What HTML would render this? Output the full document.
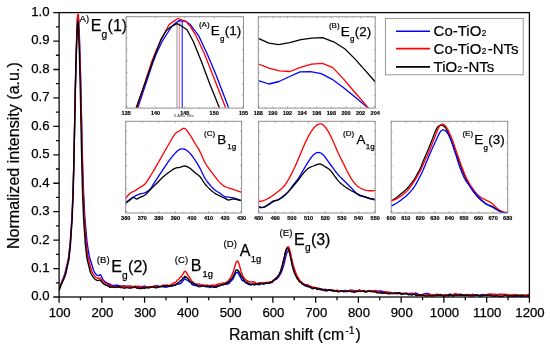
<!DOCTYPE html>
<html lang="en">
<head>
<meta charset="utf-8">
<title>Raman spectra</title>
<style>
html,body{margin:0;padding:0;background:#fff;}
body{width:550px;height:345px;overflow:hidden;}
svg text{white-space:pre;}
svg{filter:blur(0.3px);}
</style>
</head>
<body>
<svg width="550" height="345" viewBox="0 0 550 345" style="display:block">
<rect x="0" y="0" width="550" height="345" fill="#ffffff"/>
<text x="89.08" y="22" text-anchor="end" font-family='"Liberation Sans", Arial, Helvetica, sans-serif' fill="#000" stroke="#000" stroke-width="0.2" font-size="9.6">(A)</text>
<text x="90.64" y="31.2" font-family='"Liberation Sans", Arial, Helvetica, sans-serif' fill="#000" stroke="#000" stroke-width="0.25" font-size="16">E<tspan font-size="10.2" dx="0.3" dy="7">g</tspan><tspan dx="0.3" dy="-7">(1)</tspan></text>
<text x="109.58" y="262.6" text-anchor="end" font-family='"Liberation Sans", Arial, Helvetica, sans-serif' fill="#000" stroke="#000" stroke-width="0.2" font-size="9.6">(B)</text>
<text x="111.14" y="271.8" font-family='"Liberation Sans", Arial, Helvetica, sans-serif' fill="#000" stroke="#000" stroke-width="0.25" font-size="16">E<tspan font-size="10.2" dx="0.3" dy="7">g</tspan><tspan dx="0.3" dy="-7">(2)</tspan></text>
<text x="188.18" y="263.4" text-anchor="end" font-family='"Liberation Sans", Arial, Helvetica, sans-serif' fill="#000" stroke="#000" stroke-width="0.2" font-size="9.6">(C)</text>
<text x="190.63" y="270.6" font-family='"Liberation Sans", Arial, Helvetica, sans-serif' fill="#000" stroke="#000" stroke-width="0.25" font-size="16">B<tspan font-size="9.3" dx="1.3" dy="6.4">1g</tspan></text>
<text x="236.88" y="247" text-anchor="end" font-family='"Liberation Sans", Arial, Helvetica, sans-serif' fill="#000" stroke="#000" stroke-width="0.2" font-size="9.6">(D)</text>
<text x="239.7" y="256.2" font-family='"Liberation Sans", Arial, Helvetica, sans-serif' fill="#000" stroke="#000" stroke-width="0.25" font-size="16">A<tspan font-size="9.4" dx="0.3" dy="6.2">1g</tspan></text>
<text x="292.38" y="235.7" text-anchor="end" font-family='"Liberation Sans", Arial, Helvetica, sans-serif' fill="#000" stroke="#000" stroke-width="0.2" font-size="9.6">(E)</text>
<text x="293.94" y="244.5" font-family='"Liberation Sans", Arial, Helvetica, sans-serif' fill="#000" stroke="#000" stroke-width="0.25" font-size="16">E<tspan font-size="10.2" dx="0.3" dy="6.3">g</tspan><tspan dx="0.3" dy="-6.3">(3)</tspan></text>
<defs><clipPath id="cm"><rect x="59.1" y="12.6" width="470.3" height="285.4"/></clipPath></defs>
<g clip-path="url(#cm)">
<path d="M59.1 289.84 L59.31 289.03 L59.53 288.26 L59.74 287.52 L59.96 286.82 L60.17 286.15 L60.38 285.5 L60.6 284.88 L60.81 284.27 L61.02 283.69 L61.24 283.11 L61.45 282.55 L61.67 282 L61.88 281.46 L62.09 280.92 L62.31 280.39 L62.52 279.86 L62.73 279.33 L62.95 278.8 L63.16 278.26 L63.38 277.72 L63.59 277.18 L63.8 276.62 L64.02 276.06 L64.23 275.49 L64.44 274.9 L64.66 274.3 L64.87 273.68 L65.09 272.68 L65.3 271.77 L65.51 270.86 L65.73 269.95 L65.94 269.05 L66.15 268.14 L66.37 267.24 L66.58 266.34 L66.8 265.45 L67.01 264.55 L67.22 263.66 L67.44 262.77 L67.65 261.88 L67.86 260.99 L68.08 260.11 L68.29 259.22 L68.51 257.49 L68.72 255.64 L68.93 253.78 L69.15 251.93 L69.36 250.08 L69.57 248.23 L69.79 246.37 L70 244.52 L70.22 241.71 L70.43 238.69 L70.64 235.67 L70.86 232.65 L71.07 229.63 L71.29 226.61 L71.5 223.59 L71.71 220.57 L71.93 217.55 L72.14 212.56 L72.35 207.36 L72.57 202.16 L72.78 196.95 L73 191.75 L73.21 185.35 L73.42 177.6 L73.64 169.85 L73.85 162.1 L74.06 152.82 L74.28 142.52 L74.49 132.23 L74.71 121.93 L74.92 111.63 L75.13 101.34 L75.35 91.04 L75.56 82.71 L75.77 74.39 L75.99 66.07 L76.2 59.06 L76.42 52.21 L76.63 45.37 L76.84 39.29 L77.06 34.38 L77.27 29.48 L77.48 24.58 L77.7 20.08 L77.91 18.33 L78.13 16.57 L78.34 17.65 L78.55 19.43 L78.77 22.89 L78.98 27.89 L79.19 32.89 L79.41 37.89 L79.62 43.57 L79.84 50.56 L80.05 57.54 L80.26 64.53 L80.48 72.9 L80.69 81.38 L80.9 89.5 L81.12 99.04 L81.33 108.83 L81.55 118.54 L81.76 128.16 L81.97 137.71 L82.19 147.18 L82.4 156.57 L82.61 164.1 L82.83 171.01 L83.04 177.86 L83.26 184.66 L83.47 190.49 L83.68 194.97 L83.9 199.41 L84.11 203.81 L84.33 208.18 L84.54 212.52 L84.75 216.73 L84.97 219.19 L85.18 221.62 L85.39 224.04 L85.61 226.44 L85.82 228.82 L86.04 231.19 L86.25 233.53 L86.46 235.86 L86.68 238.17 L86.89 240.46 L87.1 242.73 L87.32 244.21 L87.53 245.57 L87.75 246.91 L87.96 248.24 L88.17 249.56 L88.39 250.88 L88.6 252.18 L88.81 253.47 L89.03 254.76 L89.24 256.03 L89.46 257.29 L89.67 257.93 L89.88 258.49 L90.1 259.05 L90.31 259.72 L90.52 260.41 L90.74 261.11 L90.95 261.8 L91.17 262.49 L91.38 263.19 L91.59 263.88 L91.81 264.57 L92.02 265.26 L92.23 265.95 L92.45 266.64 L92.66 267.33 L92.88 268.02 L93.09 268.71 L93.3 269.39 L93.52 270.08 L93.73 270.69 L93.94 271.1 L94.16 271.48 L94.37 271.85 L94.59 272.21 L94.8 272.54 L95.01 272.87 L95.23 273.17 L95.44 273.46 L95.66 273.74 L95.87 274 L96.08 274.24 L96.3 274.47 L96.51 274.68 L96.72 274.87 L96.94 275.05 L97.15 275.2 L97.37 275.34 L97.58 275.45 L97.79 275.53 L98.01 275.59 L98.22 275.62 L98.43 275.62 L98.65 275.58 L98.86 275.51 L99.08 275.41 L99.29 275.28 L99.5 275.13 L99.72 274.99 L99.93 274.86 L100.14 274.79 L100.36 274.79 L100.57 274.89 L100.79 275.1 L101 275.41 L101.21 275.79 L101.43 276.23 L101.64 276.69 L101.85 277.15 L102.07 277.62 L102.28 278.07 L102.5 278.49 L102.71 278.88 L102.92 279.23 L103.14 279.56 L103.35 279.87 L103.56 280.15 L103.78 280.41 L103.99 280.65 L104.21 280.88 L104.42 281.09 L104.63 281.29 L104.85 281.48 L105.06 281.66 L105.27 281.83 L105.49 282 L105.7 282.16 L105.92 282.31 L106.13 282.45 L106.34 282.59 L106.56 282.73 L106.77 282.86 L106.99 282.99 L107.2 283.11 L107.41 283.23 L107.63 283.35 L107.84 283.46 L108.05 283.58 L108.27 283.69 L108.48 283.46 L108.7 283.61 L108.91 283.8 L109.12 284.37 L109.34 284.87 L109.55 284.59 L109.76 284.55 L109.98 284.65 L110.19 284.33 L110.41 284.78 L111.05 284.85 L111.69 285.11 L112.33 285.38 L112.97 285.38 L113.61 285.45 L114.25 285.5 L114.89 285.55 L115.54 285.07 L116.18 285.4 L116.82 285.26 L117.46 285.28 L118.1 285.61 L118.74 285.52 L119.38 285.96 L120.03 285.7 L120.67 286.1 L121.31 286.33 L121.95 286.27 L122.59 286.06 L123.23 285.87 L123.87 285.72 L124.51 285.95 L125.16 286.37 L125.8 286.24 L126.44 286.21 L127.08 286.58 L127.72 286.28 L128.36 286.3 L129 286.68 L129.64 286.55 L130.29 287 L130.93 287.22 L131.57 287 L132.21 287.44 L132.85 287.3 L133.49 287.62 L134.13 287.22 L134.78 287.37 L135.42 287.2 L136.06 287.59 L136.7 287.55 L137.34 287.1 L137.98 286.91 L138.62 287.47 L139.26 287.05 L139.91 286.73 L140.55 286.87 L141.19 286.42 L141.83 286.83 L142.47 286.86 L143.11 286.5 L143.75 286.15 L144.4 285.89 L145.04 286.41 L145.68 287.05 L146.32 286.87 L146.96 287.31 L147.6 287.24 L148.24 287.55 L148.88 287.06 L149.53 286.74 L150.17 286.57 L150.81 286.6 L151.45 286.6 L152.09 286.72 L152.73 286.59 L153.37 286.53 L154.02 286.41 L154.66 286.59 L155.3 286 L155.94 286.03 L156.58 285.7 L157.22 285.45 L157.86 285.94 L158.5 286.58 L159.15 286.17 L159.79 286.34 L160.43 286.33 L161.07 286.42 L161.71 286.37 L162.35 286.74 L162.99 286.7 L163.63 286.77 L164.28 286.68 L164.92 287.33 L165.56 286.86 L166.2 286.62 L166.84 287.06 L167.48 287.1 L168.12 286.88 L168.77 286.5 L169.41 286.38 L170.05 285.83 L170.69 285.8 L171.33 286.07 L171.97 286.16 L172.61 285.76 L173.25 285.84 L173.9 285.41 L174.54 284.96 L175.18 284.69 L175.82 284.29 L176.46 284.27 L177.1 284.13 L177.74 284.12 L178.39 284.02 L179.03 284.13 L179.67 283.78 L180.31 283.52 L180.95 283.29 L181.59 282.47 L182.23 281.59 L182.87 281.03 L183.52 279.99 L184.16 279.31 L184.8 278.82 L185.44 279.08 L186.08 279.77 L186.72 279.89 L187.36 280.25 L188 280.59 L188.65 281.09 L189.29 281.33 L189.93 282.08 L190.57 282.45 L191.21 283.28 L191.85 284.42 L192.49 284.78 L193.14 284.48 L193.78 285.26 L194.42 285.05 L195.06 285.44 L195.7 285.67 L196.34 285.73 L196.98 285.74 L197.62 286.13 L198.27 286.1 L198.91 285.99 L199.55 285.78 L200.19 286.12 L200.83 285.68 L201.47 285.22 L202.11 284.69 L202.76 285.45 L203.4 285.59 L204.04 286.34 L204.68 286.24 L205.32 286.1 L205.96 286.53 L206.6 287.01 L207.24 286.84 L207.89 286.56 L208.53 286.79 L209.17 286.79 L209.81 287.49 L210.45 287.47 L211.09 287.18 L211.73 286.95 L212.38 286.3 L213.02 286.63 L213.66 287.23 L214.3 286.86 L214.94 286.87 L215.58 286.6 L216.22 286.24 L216.86 285.97 L217.51 285.48 L218.15 285.1 L218.79 285.72 L219.43 285.7 L220.07 285.02 L220.71 285.21 L221.35 284.9 L221.99 284.95 L222.64 285.08 L223.28 284.52 L223.92 284.2 L224.56 284.3 L225.2 283.98 L225.84 284.36 L226.48 284.42 L227.13 283.88 L227.77 283.64 L228.41 283.69 L229.05 283.14 L229.69 282.6 L230.33 281.71 L230.97 280.91 L231.61 280.44 L232.26 279.88 L232.9 279.05 L233.54 278.1 L234.18 276.52 L234.82 274.96 L235.46 273.61 L236.1 272.82 L236.75 272.54 L237.39 272.3 L238.03 272.95 L238.67 273.74 L239.31 275.37 L239.95 276.59 L240.59 277.2 L241.23 278.61 L241.88 279.97 L242.52 280.7 L243.16 280.76 L243.8 280.91 L244.44 281.62 L245.08 282.24 L245.72 282.64 L246.36 283.23 L247.01 283.41 L247.65 283.67 L248.29 284.25 L248.93 284.44 L249.57 284.49 L250.21 284.73 L250.85 285 L251.5 284.59 L252.14 283.94 L252.78 284.11 L253.42 284.28 L254.06 284.13 L254.7 284.23 L255.34 284.47 L255.98 283.98 L256.63 284.34 L257.27 284.52 L257.91 284.64 L258.55 284.78 L259.19 284.69 L259.83 284.34 L260.47 283.79 L261.12 283.58 L261.76 283.6 L262.4 284 L263.04 283.92 L263.68 284.12 L264.32 283.99 L264.96 283.53 L265.6 283.37 L266.25 283.35 L266.89 283.47 L267.53 283.3 L268.17 283.08 L268.81 283.19 L269.45 283.1 L270.09 282.54 L270.74 282.82 L271.38 282.61 L272.02 282.59 L272.66 281.64 L273.3 281.12 L273.94 280.66 L274.58 280.23 L275.22 279.79 L275.87 279.31 L276.51 279.35 L277.15 278.63 L277.79 277.75 L278.43 277.43 L279.07 276.21 L279.71 274.96 L280.35 274.3 L281 273.02 L281.64 271.49 L282.28 269.81 L282.92 267.6 L283.56 265.73 L284.2 263.26 L284.84 260.52 L285.49 257.61 L286.13 255.09 L286.77 252.99 L287.41 251.14 L288.05 250.93 L288.69 250.56 L289.33 251.55 L289.97 253.59 L290.62 255.86 L291.26 258.91 L291.9 262.06 L292.54 264.55 L293.18 267.08 L293.82 268.94 L294.46 271.18 L295.11 273.3 L295.75 275.05 L296.39 275.76 L297.03 276.97 L297.67 278.25 L298.31 279.49 L298.95 280.61 L299.59 281.29 L300.24 281.72 L300.88 281.9 L301.52 282.12 L302.16 282.62 L302.8 283.37 L303.44 284.09 L304.08 285.16 L304.72 285.66 L305.37 285.65 L306.01 285.92 L306.65 285.96 L307.29 286.56 L307.93 286.37 L308.57 286.44 L309.21 286.61 L309.86 286.66 L310.5 287.56 L311.14 287.78 L311.78 288.08 L312.42 287.51 L313.06 287.7 L313.7 287.98 L314.34 287.8 L314.99 288.28 L315.63 287.91 L316.27 288.3 L316.91 288.43 L317.55 288.82 L318.19 288.62 L318.83 289.4 L319.48 289.16 L320.12 289.45 L320.76 289.44 L321.4 289.82 L322.04 289.7 L322.68 289.65 L323.32 289.49 L323.96 289.47 L324.61 289.37 L325.25 289.2 L325.89 289.51 L326.53 290.01 L327.17 290.47 L327.81 290.23 L328.45 290.39 L329.09 290.09 L329.74 290.18 L330.38 290.59 L331.02 290.34 L331.66 289.83 L332.3 290.09 L332.94 290.56 L333.58 290.92 L334.23 290.68 L334.87 290.96 L335.51 291.14 L336.15 290.96 L336.79 291.04 L337.43 291.04 L338.07 291.22 L338.71 291.39 L339.36 291.27 L340 291.18 L340.64 290.96 L341.28 291.13 L341.92 291 L342.56 290.85 L343.2 290.85 L343.85 290.7 L344.49 290.43 L345.13 290.47 L345.77 290.54 L346.41 290.92 L347.05 290.81 L347.69 290.86 L348.33 290.96 L348.98 291.2 L349.62 290.95 L350.26 290.12 L350.9 290.13 L351.54 290.24 L352.18 290.21 L352.82 290.51 L353.47 290.53 L354.11 290.78 L354.75 290.97 L355.39 290.84 L356.03 290.74 L356.67 290.76 L357.31 290.99 L357.95 290.84 L358.6 291.15 L359.24 290.85 L359.88 290.97 L360.52 290.96 L361.16 290.71 L361.8 290.59 L362.44 291.08 L363.08 291.15 L363.73 291.02 L364.37 291.37 L365.01 292.07 L365.65 291.91 L366.29 291.78 L366.93 291.53 L367.57 291.45 L368.22 291.37 L368.86 291.28 L369.5 290.86 L370.14 290.81 L370.78 290.75 L371.42 291.01 L372.06 290.74 L372.7 290.95 L373.35 290.83 L373.99 291.63 L374.63 291.53 L375.27 291.57 L375.91 291.73 L376.55 291.31 L377.19 291.25 L377.84 291.38 L378.48 291.62 L379.12 291.06 L379.76 290.97 L380.4 290.95 L381.04 291.39 L381.68 291.11 L382.32 291.12 L382.97 291.4 L383.61 291.59 L384.25 292.22 L384.89 292.02 L385.53 292.42 L386.17 292.14 L386.81 292.33 L387.45 292.55 L388.1 292.42 L388.74 292.38 L389.38 292.78 L390.02 292.77 L390.66 292.57 L391.3 292.68 L391.94 293.12 L392.59 293.14 L393.23 293.39 L393.87 293.48 L394.51 293.37 L395.15 293.32 L395.79 293.33 L396.43 293.81 L397.07 293.57 L397.72 293.57 L398.36 293.64 L399 293.52 L399.64 292.89 L400.28 293.4 L400.92 293.92 L401.56 293.59 L402.21 293.83 L402.85 293.38 L403.49 293.73 L404.13 293.87 L404.77 293.58 L405.41 293.33 L406.05 293.29 L406.69 293.26 L407.34 293.43 L407.98 293.66 L408.62 293.79 L409.26 293.44 L409.9 293.35 L410.54 293.49 L411.18 293.53 L411.82 293.4 L412.47 293.2 L413.11 293.46 L413.75 293.66 L414.39 293.7 L415.03 293.03 L415.67 293.24 L416.31 293.1 L416.96 293.86 L417.6 293.75 L418.24 294.36 L418.88 294.76 L419.52 294.95 L420.16 294.96 L420.8 294.87 L421.44 294.75 L422.09 294.71 L422.73 294.88 L423.37 294.05 L424.01 294.08 L424.65 294.01 L425.29 293.54 L425.93 293.49 L426.58 293.57 L427.22 293.72 L427.86 293.36 L428.5 293.99 L429.14 294.45 L429.78 294.48 L430.42 295.18 L431.06 295.36 L431.71 294.9 L432.35 295.03 L432.99 294.95 L433.63 294.71 L434.27 295.1 L434.91 294.97 L435.55 295.15 L436.2 295.43 L436.84 295.41 L437.48 295.32 L438.12 295.36 L438.76 295.47 L439.4 295.06 L440.04 294.67 L440.68 294.55 L441.33 294.65 L441.97 295.03 L442.61 295.26 L443.25 295.54 L443.89 295.35 L444.53 294.99 L445.17 294.69 L445.81 294.75 L446.46 294.91 L447.1 294.86 L447.74 294.84 L448.38 294.67 L449.02 294.27 L449.66 294.62 L450.3 294.04 L450.95 294.87 L451.59 295.44 L452.23 295.81 L452.87 295.96 L453.51 295.84 L454.15 295.02 L454.79 295.23 L455.43 294.84 L456.08 294.98 L456.72 294.93 L457.36 295.26 L458 294.5 L458.64 294.61 L459.28 294.87 L459.92 294.19 L460.57 294.3 L461.21 294.31 L461.85 294.49 L462.49 294.85 L463.13 295.33 L463.77 295.32 L464.41 294.75 L465.05 294.68 L465.7 294.8 L466.34 294.51 L466.98 294.9 L467.62 294.5 L468.26 294.61 L468.9 294.95 L469.54 294.76 L470.18 294.65 L470.83 294.84 L471.47 294.81 L472.11 294.55 L472.75 294.22 L473.39 294.64 L474.03 295.54 L474.67 294.81 L475.32 294.94 L475.96 295.09 L476.6 294.95 L477.24 295.11 L477.88 294.77 L478.52 295.22 L479.16 295.25 L479.8 295.6 L480.45 295.03 L481.09 295.11 L481.73 294.76 L482.37 294.4 L483.01 294.91 L483.65 295.01 L484.29 294.8 L484.94 294.84 L485.58 294.94 L486.22 294.71 L486.86 294.5 L487.5 294.81 L488.14 294.91 L488.78 294.75 L489.42 294.75 L490.07 294.78 L490.71 295.19 L491.35 294.63 L491.99 294.8 L492.63 294.78 L493.27 294.86 L493.91 294.89 L494.56 294.89 L495.2 295.2 L495.84 295.07 L496.48 294.71 L497.12 294.67 L497.76 294.54 L498.4 294.51 L499.04 294.63 L499.69 294.17 L500.33 294.57 L500.97 294.57 L501.61 294.37 L502.25 294.44 L502.89 294.91 L503.53 295.29 L504.17 294.78 L504.82 295.16 L505.46 295.16 L506.1 294.99 L506.74 295 L507.38 295.58 L508.02 296.09 L508.66 295.94 L509.31 296.03 L509.95 295.94 L510.59 295.76 L511.23 295.6 L511.87 295.93 L512.51 296.31 L513.15 295.79 L513.79 295.87 L514.44 296.1 L515.08 296.43 L515.72 296.11 L516.36 296.32 L517 296.42 L517.64 295.99 L518.28 295.74 L518.93 295.46 L519.57 295.8 L520.21 296.43 L520.85 296.43 L521.49 296.43 L522.13 296.4 L522.77 295.89 L523.41 295.64 L524.06 295.89 L524.7 295.58 L525.34 295.56 L525.98 295.65 L526.62 295.22 L527.26 295.74 L527.9 295.32 L528.54 294.97 L529.19 295.67" fill="none" stroke="#0000ff" stroke-width="1.4" stroke-linejoin="round" stroke-linecap="butt" />
<path d="M59.1 290.18 L59.31 289.41 L59.53 288.68 L59.74 287.98 L59.96 287.32 L60.17 286.68 L60.38 286.07 L60.6 285.48 L60.81 284.91 L61.02 284.36 L61.24 283.82 L61.45 283.3 L61.67 282.78 L61.88 282.27 L62.09 281.77 L62.31 281.27 L62.52 280.77 L62.73 280.28 L62.95 279.78 L63.16 279.28 L63.38 278.77 L63.59 278.26 L63.8 277.75 L64.02 277.22 L64.23 276.68 L64.44 276.13 L64.66 275.57 L64.87 274.99 L65.09 274.4 L65.3 273.79 L65.51 273.15 L65.73 272.19 L65.94 271.22 L66.15 270.26 L66.37 269.29 L66.58 268.33 L66.8 267.37 L67.01 266.41 L67.22 265.45 L67.44 264.5 L67.65 263.54 L67.86 262.59 L68.08 261.64 L68.29 260.69 L68.51 259.74 L68.72 258.79 L68.93 257.05 L69.15 255.05 L69.36 253.05 L69.57 251.05 L69.79 249.05 L70 247.05 L70.22 245.06 L70.43 242.7 L70.64 239.44 L70.86 236.17 L71.07 232.9 L71.29 229.64 L71.5 226.37 L71.71 223.1 L71.93 219.84 L72.14 216.57 L72.35 210.94 L72.57 205.31 L72.78 199.67 L73 194.04 L73.21 188.41 L73.42 180.13 L73.64 171.73 L73.85 163.34 L74.06 153.93 L74.28 142.78 L74.49 131.62 L74.71 120.47 L74.92 109.31 L75.13 98.15 L75.35 87.51 L75.56 78.5 L75.77 69.5 L75.99 61.06 L76.2 53.64 L76.42 46.22 L76.63 39.05 L76.84 33.74 L77.06 28.43 L77.27 23.12 L77.48 18.35 L77.7 16.45 L77.91 14.56 L78.13 16.28 L78.34 18.01 L78.55 21.73 L78.77 26.58 L78.98 31.42 L79.19 36.27 L79.41 41.7 L79.62 48.48 L79.84 55.25 L80.05 62.02 L80.26 69.9 L80.48 78.12 L80.69 86.35 L80.9 95.76 L81.12 105.95 L81.33 116.14 L81.55 126.33 L81.76 136.52 L81.97 146.71 L82.19 156.9 L82.4 164.76 L82.61 172.38 L82.83 180 L83.04 187.62 L83.26 192.81 L83.47 197.9 L83.68 203 L83.9 208.1 L84.11 213.19 L84.33 217.32 L84.54 220.25 L84.75 223.18 L84.97 226.12 L85.18 229.05 L85.39 231.98 L85.61 234.91 L85.82 237.85 L86.04 240.78 L86.25 243.26 L86.46 245.03 L86.68 246.8 L86.89 248.58 L87.1 250.35 L87.32 252.12 L87.53 253.89 L87.75 255.66 L87.96 257.22 L88.17 258.03 L88.39 258.83 L88.6 259.63 L88.81 260.44 L89.03 261.24 L89.24 262.04 L89.46 262.85 L89.67 263.65 L89.88 264.45 L90.1 265.25 L90.31 266.05 L90.52 266.86 L90.74 267.66 L90.95 268.46 L91.17 269.26 L91.38 270.06 L91.59 270.69 L91.81 271.16 L92.02 271.62 L92.23 272.05 L92.45 272.46 L92.66 272.86 L92.88 273.24 L93.09 273.61 L93.3 273.95 L93.52 274.29 L93.73 274.61 L93.94 274.91 L94.16 275.21 L94.37 275.49 L94.59 275.75 L94.8 276.01 L95.01 276.25 L95.23 276.48 L95.44 276.7 L95.66 276.91 L95.87 277.1 L96.08 277.28 L96.3 277.45 L96.51 277.61 L96.72 277.75 L96.94 277.88 L97.15 277.99 L97.37 278.08 L97.58 278.16 L97.79 278.22 L98.01 278.25 L98.22 278.27 L98.43 278.26 L98.65 278.23 L98.86 278.18 L99.08 278.12 L99.29 278.06 L99.5 278.01 L99.72 277.99 L99.93 278.02 L100.14 278.11 L100.36 278.27 L100.57 278.48 L100.79 278.75 L101 279.04 L101.21 279.35 L101.43 279.66 L101.64 279.96 L101.85 280.25 L102.07 280.54 L102.28 280.81 L102.5 281.07 L102.71 281.3 L102.92 281.52 L103.14 281.73 L103.35 281.92 L103.56 282.1 L103.78 282.27 L103.99 282.43 L104.21 282.58 L104.42 282.72 L104.63 282.86 L104.85 283 L105.06 283.12 L105.27 283.25 L105.49 283.37 L105.7 283.48 L105.92 283.59 L106.13 283.7 L106.34 283.81 L106.56 283.91 L106.77 284.01 L106.99 284.11 L107.2 284.2 L107.41 284.29 L107.63 284.38 L107.84 284.47 L108.05 284.56 L108.27 284.65 L108.48 285.74 L108.7 285.48 L108.91 285.73 L109.12 285.47 L109.34 285.86 L109.55 285.9 L109.76 285.69 L109.98 286 L110.19 286.16 L110.41 285.28 L111.05 285.74 L111.69 286.15 L112.33 286.47 L112.97 286.48 L113.61 286.49 L114.25 286.17 L114.89 285.99 L115.54 286.23 L116.18 286.41 L116.82 286.9 L117.46 287.32 L118.1 287.42 L118.74 287.03 L119.38 286.91 L120.03 286.6 L120.67 286.31 L121.31 286.44 L121.95 285.81 L122.59 286.15 L123.23 286.45 L123.87 286.63 L124.51 286.27 L125.16 286.39 L125.8 286.68 L126.44 286.53 L127.08 286.19 L127.72 286.32 L128.36 286.48 L129 286.18 L129.64 285.98 L130.29 285.82 L130.93 286.25 L131.57 286.26 L132.21 286.24 L132.85 286.91 L133.49 286.49 L134.13 286.51 L134.78 286.67 L135.42 285.96 L136.06 286.06 L136.7 286.43 L137.34 286.51 L137.98 286.37 L138.62 286.18 L139.26 286.3 L139.91 286.65 L140.55 286.88 L141.19 287.1 L141.83 287.35 L142.47 287.22 L143.11 287.26 L143.75 287.11 L144.4 287.28 L145.04 287.42 L145.68 287.31 L146.32 287.27 L146.96 286.76 L147.6 287 L148.24 286.83 L148.88 286.78 L149.53 287.13 L150.17 286.76 L150.81 286.63 L151.45 287.25 L152.09 286.88 L152.73 286.47 L153.37 286.69 L154.02 286.07 L154.66 286.05 L155.3 286.45 L155.94 286.21 L156.58 286.31 L157.22 286.69 L157.86 287.24 L158.5 286.91 L159.15 286.95 L159.79 286.53 L160.43 286.26 L161.07 286.33 L161.71 286.37 L162.35 285.67 L162.99 285.12 L163.63 284.97 L164.28 285.19 L164.92 285.55 L165.56 285.63 L166.2 285.02 L166.84 284.9 L167.48 285.01 L168.12 285.38 L168.77 285.19 L169.41 285.35 L170.05 285.15 L170.69 284.71 L171.33 284.21 L171.97 284.05 L172.61 284.02 L173.25 283.74 L173.9 282.94 L174.54 282.66 L175.18 282.89 L175.82 282.02 L176.46 281.59 L177.1 280.07 L177.74 279.92 L178.39 279.48 L179.03 278.95 L179.67 278.06 L180.31 277.38 L180.95 276.84 L181.59 276.28 L182.23 275.04 L182.87 274.03 L183.52 273.22 L184.16 271.83 L184.8 271.39 L185.44 271.3 L186.08 272.13 L186.72 272.95 L187.36 274.12 L188 275.34 L188.65 276.24 L189.29 277.17 L189.93 278.14 L190.57 279.07 L191.21 280.39 L191.85 281.28 L192.49 281.69 L193.14 282.3 L193.78 282.96 L194.42 283.15 L195.06 283.74 L195.7 284.16 L196.34 284.02 L196.98 284.33 L197.62 284.02 L198.27 284.08 L198.91 284.05 L199.55 283.94 L200.19 284.91 L200.83 285.03 L201.47 285.52 L202.11 285.66 L202.76 285.66 L203.4 285.24 L204.04 285.32 L204.68 284.85 L205.32 285.16 L205.96 285.27 L206.6 285.31 L207.24 285.07 L207.89 285.19 L208.53 285.46 L209.17 285.58 L209.81 286 L210.45 285.49 L211.09 285.23 L211.73 285.11 L212.38 285.06 L213.02 285.28 L213.66 285.38 L214.3 285.07 L214.94 285.3 L215.58 285.47 L216.22 284.84 L216.86 284.32 L217.51 284.28 L218.15 284.15 L218.79 284.13 L219.43 283.68 L220.07 283.89 L220.71 283.84 L221.35 283.64 L221.99 283.13 L222.64 283.2 L223.28 283.04 L223.92 283.07 L224.56 283.07 L225.2 282.98 L225.84 282.58 L226.48 281.88 L227.13 281.68 L227.77 281.34 L228.41 280.81 L229.05 279.93 L229.69 278.85 L230.33 278.31 L230.97 277 L231.61 275.97 L232.26 274.12 L232.9 272.64 L233.54 270.91 L234.18 268.84 L234.82 266.48 L235.46 264.56 L236.1 262.61 L236.75 261.4 L237.39 261.11 L238.03 261.69 L238.67 262.86 L239.31 265.07 L239.95 267.21 L240.59 269.36 L241.23 271.99 L241.88 273.52 L242.52 275.23 L243.16 276.68 L243.8 277.81 L244.44 278.6 L245.08 279.21 L245.72 279.68 L246.36 280.46 L247.01 280.68 L247.65 280.96 L248.29 281.47 L248.93 281.77 L249.57 281.78 L250.21 281.91 L250.85 281.94 L251.5 282.17 L252.14 282.03 L252.78 281.58 L253.42 281.78 L254.06 282.59 L254.7 282.2 L255.34 282.6 L255.98 283.17 L256.63 283.93 L257.27 283.66 L257.91 283.23 L258.55 282.9 L259.19 283.06 L259.83 282.6 L260.47 282.71 L261.12 282.95 L261.76 282.92 L262.4 282.84 L263.04 282.8 L263.68 282.64 L264.32 283.31 L264.96 282.63 L265.6 282.73 L266.25 282.4 L266.89 282.55 L267.53 282.33 L268.17 282.22 L268.81 282.52 L269.45 282.09 L270.09 281.61 L270.74 281.71 L271.38 282.02 L272.02 281.72 L272.66 281.46 L273.3 280.88 L273.94 280.36 L274.58 279.32 L275.22 278.64 L275.87 278.22 L276.51 277.57 L277.15 277.79 L277.79 277.1 L278.43 276.27 L279.07 275.03 L279.71 273.53 L280.35 271.94 L281 269.95 L281.64 268.33 L282.28 266.11 L282.92 263.81 L283.56 261.24 L284.2 258.39 L284.84 255.68 L285.49 252.87 L286.13 250.44 L286.77 248.2 L287.41 247.14 L288.05 246.86 L288.69 246.83 L289.33 248.46 L289.97 250.78 L290.62 253.35 L291.26 256.8 L291.9 259.6 L292.54 262.28 L293.18 264.89 L293.82 267.08 L294.46 269.12 L295.11 270.81 L295.75 272.89 L296.39 274.35 L297.03 275.95 L297.67 276.77 L298.31 277.88 L298.95 279.29 L299.59 280.07 L300.24 281.11 L300.88 281.39 L301.52 282.1 L302.16 283.29 L302.8 283.75 L303.44 283.72 L304.08 283.97 L304.72 284.51 L305.37 284.59 L306.01 284.71 L306.65 284.57 L307.29 284.67 L307.93 284.96 L308.57 285.58 L309.21 285.77 L309.86 285.95 L310.5 286.22 L311.14 286.33 L311.78 286.95 L312.42 286.93 L313.06 287.11 L313.7 287.17 L314.34 287.38 L314.99 287.64 L315.63 287.7 L316.27 287.6 L316.91 287.89 L317.55 287.94 L318.19 288.34 L318.83 288.31 L319.48 288.43 L320.12 288.95 L320.76 288.63 L321.4 289.02 L322.04 289.06 L322.68 289.54 L323.32 290.07 L323.96 289.77 L324.61 290.18 L325.25 290.74 L325.89 290.63 L326.53 290.97 L327.17 290.83 L327.81 290.11 L328.45 290.24 L329.09 290.13 L329.74 289.99 L330.38 289.99 L331.02 290.12 L331.66 289.74 L332.3 289.94 L332.94 289.97 L333.58 290.1 L334.23 290.64 L334.87 290.59 L335.51 290.65 L336.15 290.53 L336.79 290.43 L337.43 290.04 L338.07 290.78 L338.71 290.96 L339.36 291.07 L340 291.28 L340.64 291.05 L341.28 291.01 L341.92 290.92 L342.56 291.38 L343.2 291.55 L343.85 291.4 L344.49 291.4 L345.13 291.44 L345.77 291.32 L346.41 291.28 L347.05 291.48 L347.69 290.79 L348.33 290.97 L348.98 290.69 L349.62 290.49 L350.26 290.2 L350.9 290.45 L351.54 290.78 L352.18 290.59 L352.82 290.5 L353.47 291.23 L354.11 291.89 L354.75 291.77 L355.39 291.63 L356.03 291.47 L356.67 291.13 L357.31 291.29 L357.95 290.29 L358.6 290.04 L359.24 289.75 L359.88 289.85 L360.52 290.65 L361.16 290.59 L361.8 290.79 L362.44 290.64 L363.08 290.71 L363.73 290.52 L364.37 290.86 L365.01 290.97 L365.65 290.96 L366.29 291.19 L366.93 291.28 L367.57 291.03 L368.22 290.44 L368.86 290.62 L369.5 290.46 L370.14 290.94 L370.78 291.12 L371.42 291.03 L372.06 290.88 L372.7 291.27 L373.35 291.08 L373.99 291.07 L374.63 290.72 L375.27 290.55 L375.91 290.54 L376.55 290.84 L377.19 290.87 L377.84 291.25 L378.48 291.55 L379.12 292.11 L379.76 292.4 L380.4 292.65 L381.04 292.49 L381.68 292.32 L382.32 292.63 L382.97 292.51 L383.61 292.27 L384.25 291.92 L384.89 291.97 L385.53 291.92 L386.17 292.08 L386.81 291.81 L387.45 292.37 L388.1 292.27 L388.74 293 L389.38 292.34 L390.02 292.07 L390.66 292.8 L391.3 292.9 L391.94 293.27 L392.59 293.68 L393.23 293.6 L393.87 293.69 L394.51 293.18 L395.15 293.27 L395.79 293.53 L396.43 293.43 L397.07 293.21 L397.72 292.91 L398.36 292.78 L399 293.31 L399.64 293.53 L400.28 293.52 L400.92 293.72 L401.56 293.4 L402.21 293.49 L402.85 293.49 L403.49 293.59 L404.13 293.55 L404.77 294 L405.41 293.26 L406.05 293.5 L406.69 293.75 L407.34 294.28 L407.98 294.2 L408.62 294.53 L409.26 294.29 L409.9 293.83 L410.54 293.66 L411.18 293.85 L411.82 293.48 L412.47 293.65 L413.11 293.75 L413.75 293.8 L414.39 294.02 L415.03 293.93 L415.67 294.37 L416.31 294.9 L416.96 294.42 L417.6 294.64 L418.24 294.7 L418.88 294.55 L419.52 294.69 L420.16 295.02 L420.8 295 L421.44 295.22 L422.09 294.94 L422.73 295.02 L423.37 295.01 L424.01 294.69 L424.65 295.14 L425.29 295.49 L425.93 295.08 L426.58 294.59 L427.22 294.57 L427.86 294.79 L428.5 294.38 L429.14 294.26 L429.78 294.02 L430.42 294.7 L431.06 294.72 L431.71 295.02 L432.35 295.28 L432.99 294.98 L433.63 294.69 L434.27 294.82 L434.91 294.87 L435.55 294.4 L436.2 294.25 L436.84 294.37 L437.48 294.28 L438.12 294.32 L438.76 294.79 L439.4 294.92 L440.04 294.79 L440.68 294.58 L441.33 294.98 L441.97 295.17 L442.61 295.26 L443.25 295.62 L443.89 295.1 L444.53 294.88 L445.17 294.45 L445.81 295.18 L446.46 295.34 L447.1 294.66 L447.74 295.1 L448.38 295.59 L449.02 295.35 L449.66 294.75 L450.3 294.55 L450.95 294.88 L451.59 294.69 L452.23 294.57 L452.87 294.53 L453.51 294.46 L454.15 294.26 L454.79 294 L455.43 293.73 L456.08 293.61 L456.72 293.89 L457.36 294.64 L458 294.5 L458.64 295.01 L459.28 294.27 L459.92 294.73 L460.57 295.31 L461.21 295.77 L461.85 295.45 L462.49 295.23 L463.13 294.94 L463.77 294.83 L464.41 295.06 L465.05 294.76 L465.7 294.98 L466.34 295.41 L466.98 295.01 L467.62 294.81 L468.26 295.1 L468.9 295.12 L469.54 294.74 L470.18 294.47 L470.83 294.87 L471.47 294.52 L472.11 295.38 L472.75 295.24 L473.39 295.04 L474.03 295.04 L474.67 294.97 L475.32 295.44 L475.96 295.36 L476.6 295.1 L477.24 295.34 L477.88 295.2 L478.52 295.18 L479.16 295.81 L479.8 295.81 L480.45 295.44 L481.09 295.8 L481.73 295.61 L482.37 295.36 L483.01 295.65 L483.65 295.57 L484.29 295.16 L484.94 294.88 L485.58 295.19 L486.22 294.81 L486.86 294.72 L487.5 294.71 L488.14 294.28 L488.78 294.18 L489.42 294.21 L490.07 294.05 L490.71 294.01 L491.35 293.8 L491.99 294.05 L492.63 294.77 L493.27 294.32 L493.91 294.19 L494.56 294.17 L495.2 294.3 L495.84 294.45 L496.48 294.51 L497.12 294.89 L497.76 294.65 L498.4 294.68 L499.04 295.02 L499.69 294.92 L500.33 295.02 L500.97 295.01 L501.61 294.83 L502.25 294.02 L502.89 294.53 L503.53 294.49 L504.17 294.36 L504.82 294.34 L505.46 294.01 L506.1 294.33 L506.74 294.55 L507.38 294.64 L508.02 295.12 L508.66 294.75 L509.31 295.17 L509.95 294.96 L510.59 294.59 L511.23 294.93 L511.87 294.99 L512.51 295.05 L513.15 294.5 L513.79 294.51 L514.44 295.15 L515.08 294.79 L515.72 294.5 L516.36 295.22 L517 296.01 L517.64 295 L518.28 294.97 L518.93 295.63 L519.57 295.18 L520.21 294.7 L520.85 295.5 L521.49 295.01 L522.13 294.79 L522.77 294.84 L523.41 295.09 L524.06 294.96 L524.7 295.22 L525.34 295.13 L525.98 295.19 L526.62 295.29 L527.26 295.07 L527.9 294.76 L528.54 294.54 L529.19 294.5" fill="none" stroke="#ff0000" stroke-width="1.4" stroke-linejoin="round" stroke-linecap="butt" />
<path d="M59.1 290.75 L59.31 290.04 L59.53 289.36 L59.74 288.71 L59.96 288.09 L60.17 287.5 L60.38 286.93 L60.6 286.38 L60.81 285.84 L61.02 285.32 L61.24 284.81 L61.45 284.31 L61.67 283.82 L61.88 283.34 L62.09 282.86 L62.31 282.39 L62.52 281.91 L62.73 281.44 L62.95 280.96 L63.16 280.48 L63.38 279.99 L63.59 279.5 L63.8 279 L64.02 278.49 L64.23 277.97 L64.44 277.44 L64.66 276.9 L64.87 276.34 L65.09 275.76 L65.3 275.16 L65.51 274.55 L65.73 273.91 L65.94 272.84 L66.15 271.87 L66.37 270.91 L66.58 269.94 L66.8 268.97 L67.01 268.01 L67.22 267.05 L67.44 266.09 L67.65 265.13 L67.86 264.17 L68.08 263.21 L68.29 262.25 L68.51 261.3 L68.72 260.34 L68.93 258.97 L69.15 256.95 L69.36 254.94 L69.57 252.92 L69.79 250.91 L70 248.9 L70.22 246.88 L70.43 244.75 L70.64 241.46 L70.86 238.17 L71.07 234.87 L71.29 231.58 L71.5 228.29 L71.71 225 L71.93 221.71 L72.14 218.42 L72.35 212.74 L72.57 207.07 L72.78 201.39 L73 195.72 L73.21 189.84 L73.42 181.38 L73.64 172.92 L73.85 164.46 L74.06 154.44 L74.28 143.2 L74.49 131.96 L74.71 120.71 L74.92 109.47 L75.13 98.23 L75.35 88.21 L75.56 79.13 L75.77 70.05 L75.99 62.18 L76.2 54.7 L76.42 47.23 L76.63 40.99 L76.84 35.64 L77.06 30.28 L77.27 24.93 L77.48 22.02 L77.7 20.11 L77.91 20.47 L78.13 22.33 L78.34 25.68 L78.55 30.9 L78.77 36.13 L78.98 41.36 L79.19 47.59 L79.41 54.89 L79.62 62.2 L79.84 69.88 L80.05 78.75 L80.26 87.63 L80.48 97.26 L80.69 108.25 L80.9 119.24 L81.12 130.23 L81.33 141.22 L81.55 152.21 L81.76 162.53 L81.97 170.75 L82.19 178.97 L82.4 187.19 L82.61 193.67 L82.83 199.16 L83.04 204.66 L83.26 210.16 L83.47 215.65 L83.68 219.75 L83.9 222.92 L84.11 226.08 L84.33 229.24 L84.54 232.41 L84.75 235.57 L84.97 238.73 L85.18 241.9 L85.39 244.66 L85.61 246.57 L85.82 248.48 L86.04 250.39 L86.25 252.3 L86.46 254.21 L86.68 256.12 L86.89 258.03 L87.1 259.06 L87.32 259.92 L87.53 260.79 L87.75 261.66 L87.96 262.52 L88.17 263.39 L88.39 264.26 L88.6 265.12 L88.81 265.99 L89.03 266.86 L89.24 267.72 L89.46 268.59 L89.67 269.46 L89.88 270.32 L90.1 271.31 L90.31 271.84 L90.52 272.35 L90.74 272.84 L90.95 273.3 L91.17 273.74 L91.38 274.17 L91.59 274.57 L91.81 274.96 L92.02 275.32 L92.23 275.68 L92.45 276.02 L92.66 276.34 L92.88 276.65 L93.09 276.94 L93.3 277.23 L93.52 277.5 L93.73 277.75 L93.94 278 L94.16 278.24 L94.37 278.46 L94.59 278.68 L94.8 278.88 L95.01 279.07 L95.23 279.26 L95.44 279.43 L95.66 279.59 L95.87 279.74 L96.08 279.89 L96.3 280.01 L96.51 280.13 L96.72 280.24 L96.94 280.33 L97.15 280.4 L97.37 280.46 L97.58 280.51 L97.79 280.53 L98.01 280.54 L98.22 280.52 L98.43 280.48 L98.65 280.42 L98.86 280.35 L99.08 280.26 L99.29 280.17 L99.5 280.1 L99.72 280.06 L99.93 280.06 L100.14 280.13 L100.36 280.26 L100.57 280.46 L100.79 280.7 L101 280.98 L101.21 281.27 L101.43 281.56 L101.64 281.84 L101.85 282.11 L102.07 282.38 L102.28 282.64 L102.5 282.87 L102.71 283.09 L102.92 283.29 L103.14 283.48 L103.35 283.66 L103.56 283.82 L103.78 283.98 L103.99 284.12 L104.21 284.26 L104.42 284.39 L104.63 284.52 L104.85 284.64 L105.06 284.75 L105.27 284.86 L105.49 284.97 L105.7 285.07 L105.92 285.17 L106.13 285.27 L106.34 285.36 L106.56 285.45 L106.77 285.54 L106.99 285.63 L107.2 285.72 L107.41 285.8 L107.63 285.88 L107.84 285.96 L108.05 286.04 L108.27 286.12 L108.48 286.01 L108.7 286.1 L108.91 285.97 L109.12 286.32 L109.34 286.43 L109.55 287.21 L109.76 286.86 L109.98 286.74 L110.19 286.77 L110.41 286.8 L111.05 287.1 L111.69 287.27 L112.33 286.82 L112.97 287.19 L113.61 287.43 L114.25 287.25 L114.89 287.25 L115.54 287.52 L116.18 287.03 L116.82 286.63 L117.46 286.94 L118.1 286.52 L118.74 287.19 L119.38 286.8 L120.03 287.49 L120.67 287.41 L121.31 287.51 L121.95 287.66 L122.59 287.47 L123.23 287.81 L123.87 288.02 L124.51 288.3 L125.16 287.7 L125.8 287.87 L126.44 287.71 L127.08 287.76 L127.72 287.41 L128.36 287.79 L129 288.04 L129.64 288.17 L130.29 288.02 L130.93 288.19 L131.57 287.95 L132.21 287.72 L132.85 287.39 L133.49 287.27 L134.13 286.91 L134.78 287.17 L135.42 287.43 L136.06 287.69 L136.7 287.9 L137.34 288.27 L137.98 288.02 L138.62 287.91 L139.26 288.51 L139.91 288.37 L140.55 288.45 L141.19 288.56 L141.83 288.45 L142.47 287.9 L143.11 287.8 L143.75 288.38 L144.4 288.11 L145.04 288.27 L145.68 287.6 L146.32 287.73 L146.96 287.7 L147.6 287.72 L148.24 287.92 L148.88 287.95 L149.53 287.88 L150.17 287.08 L150.81 287.1 L151.45 286.98 L152.09 287.01 L152.73 287 L153.37 286.94 L154.02 286.55 L154.66 287.6 L155.3 287.71 L155.94 287.86 L156.58 287.43 L157.22 287.6 L157.86 287.18 L158.5 286.79 L159.15 286.98 L159.79 286.78 L160.43 286.93 L161.07 286.64 L161.71 286.49 L162.35 286.16 L162.99 286 L163.63 286.44 L164.28 286.01 L164.92 286.09 L165.56 285.82 L166.2 285.9 L166.84 285.68 L167.48 286.14 L168.12 285.71 L168.77 286.06 L169.41 286.05 L170.05 285.82 L170.69 286.23 L171.33 285.93 L171.97 285.76 L172.61 285.33 L173.25 285.21 L173.9 285.35 L174.54 285.42 L175.18 285.32 L175.82 284.85 L176.46 284.48 L177.1 283.83 L177.74 282.89 L178.39 282.57 L179.03 282.21 L179.67 281.48 L180.31 280.7 L180.95 280.7 L181.59 280.05 L182.23 279.14 L182.87 278.12 L183.52 277.59 L184.16 277.36 L184.8 276.32 L185.44 277.29 L186.08 276.9 L186.72 277.5 L187.36 278.15 L188 278.79 L188.65 279.38 L189.29 280.42 L189.93 281.51 L190.57 281.94 L191.21 282.08 L191.85 282.73 L192.49 282.5 L193.14 283.46 L193.78 283.62 L194.42 283.88 L195.06 283.85 L195.7 284.6 L196.34 284.68 L196.98 285 L197.62 285.95 L198.27 286.15 L198.91 286.64 L199.55 286.7 L200.19 286.45 L200.83 286.49 L201.47 285.92 L202.11 285.83 L202.76 286.16 L203.4 286.35 L204.04 286.28 L204.68 286.57 L205.32 286.41 L205.96 286.27 L206.6 286.04 L207.24 286.09 L207.89 286.15 L208.53 286.59 L209.17 286.5 L209.81 286.53 L210.45 286.45 L211.09 286.3 L211.73 286.52 L212.38 286.59 L213.02 286.73 L213.66 286.97 L214.3 287.35 L214.94 287.41 L215.58 286.98 L216.22 287.47 L216.86 286.99 L217.51 286.51 L218.15 286.06 L218.79 286.05 L219.43 286.02 L220.07 285.55 L220.71 285.23 L221.35 284.64 L221.99 284.78 L222.64 284.87 L223.28 284.41 L223.92 284.45 L224.56 284.35 L225.2 283.76 L225.84 283.37 L226.48 283.33 L227.13 282.91 L227.77 282.64 L228.41 281.95 L229.05 281.47 L229.69 281.27 L230.33 280.11 L230.97 279.49 L231.61 278.68 L232.26 277.94 L232.9 276.83 L233.54 275.71 L234.18 274.2 L234.82 272.74 L235.46 271.2 L236.1 270.1 L236.75 269.81 L237.39 269.99 L238.03 270.65 L238.67 271.13 L239.31 272.51 L239.95 273.29 L240.59 274.6 L241.23 275.93 L241.88 277.06 L242.52 277.57 L243.16 278.58 L243.8 279.59 L244.44 280.65 L245.08 281.71 L245.72 282.3 L246.36 282.19 L247.01 282.33 L247.65 282.88 L248.29 283.86 L248.93 283.56 L249.57 283.56 L250.21 284.32 L250.85 284.36 L251.5 284.67 L252.14 284.28 L252.78 284.07 L253.42 284.32 L254.06 284.99 L254.7 284.94 L255.34 284 L255.98 283.89 L256.63 284.1 L257.27 283.81 L257.91 284.02 L258.55 283.5 L259.19 284.13 L259.83 284.21 L260.47 283.65 L261.12 283.32 L261.76 283.22 L262.4 283.75 L263.04 283.69 L263.68 283.42 L264.32 283.53 L264.96 283.44 L265.6 283.07 L266.25 283.13 L266.89 282.86 L267.53 282.85 L268.17 283.08 L268.81 283.32 L269.45 283.2 L270.09 283.11 L270.74 282.37 L271.38 281.99 L272.02 282.21 L272.66 281.23 L273.3 280.08 L273.94 279.96 L274.58 279.41 L275.22 279.03 L275.87 278.27 L276.51 277.67 L277.15 276.86 L277.79 276.09 L278.43 275.36 L279.07 274.34 L279.71 273.26 L280.35 271.9 L281 270.22 L281.64 267.36 L282.28 265 L282.92 262.09 L283.56 260.12 L284.2 257.52 L284.84 254.49 L285.49 251.62 L286.13 249.48 L286.77 248.3 L287.41 248.24 L288.05 248.51 L288.69 250.31 L289.33 252.16 L289.97 254.82 L290.62 257.78 L291.26 260.81 L291.9 263.99 L292.54 266.84 L293.18 268.93 L293.82 271.17 L294.46 273.19 L295.11 274.44 L295.75 275.68 L296.39 276.88 L297.03 278.53 L297.67 279.14 L298.31 279.87 L298.95 281.03 L299.59 281.91 L300.24 282.21 L300.88 282.42 L301.52 283.14 L302.16 284.02 L302.8 284.02 L303.44 284.61 L304.08 284.71 L304.72 285.08 L305.37 285.47 L306.01 285.91 L306.65 285.7 L307.29 286.15 L307.93 286.42 L308.57 286.88 L309.21 286.45 L309.86 286.74 L310.5 287.37 L311.14 287.58 L311.78 288.29 L312.42 288.42 L313.06 288.85 L313.7 288.47 L314.34 288.1 L314.99 287.55 L315.63 287.97 L316.27 288.5 L316.91 289.32 L317.55 289.26 L318.19 289.55 L318.83 289.15 L319.48 288.61 L320.12 289.3 L320.76 289.46 L321.4 289.03 L322.04 289.7 L322.68 290.17 L323.32 289.91 L323.96 289.88 L324.61 290.55 L325.25 290.39 L325.89 290.53 L326.53 290.55 L327.17 290.46 L327.81 289.98 L328.45 289.88 L329.09 290.39 L329.74 290.07 L330.38 290.04 L331.02 290.12 L331.66 290.56 L332.3 290.99 L332.94 291.07 L333.58 290.69 L334.23 290.72 L334.87 290.85 L335.51 290.93 L336.15 291 L336.79 291.26 L337.43 291.32 L338.07 291.96 L338.71 291.89 L339.36 291.53 L340 291.47 L340.64 291.01 L341.28 290.61 L341.92 290.89 L342.56 291.41 L343.2 291.42 L343.85 291.86 L344.49 291.52 L345.13 291.54 L345.77 291.3 L346.41 291.42 L347.05 291.65 L347.69 291.11 L348.33 291.21 L348.98 291.23 L349.62 291.2 L350.26 291.38 L350.9 291.48 L351.54 291.88 L352.18 291.77 L352.82 291.57 L353.47 291.81 L354.11 292.26 L354.75 292.23 L355.39 291.85 L356.03 291.52 L356.67 291.36 L357.31 291.6 L357.95 291.41 L358.6 291.43 L359.24 291.18 L359.88 291.08 L360.52 291.45 L361.16 291.4 L361.8 291.36 L362.44 291.07 L363.08 290.6 L363.73 291.26 L364.37 291.51 L365.01 291.72 L365.65 291.88 L366.29 291.94 L366.93 291.39 L367.57 291.26 L368.22 291.4 L368.86 291.31 L369.5 291.36 L370.14 291.61 L370.78 291.67 L371.42 291.55 L372.06 291.27 L372.7 291.72 L373.35 291.74 L373.99 291.7 L374.63 291.65 L375.27 291.84 L375.91 292.01 L376.55 292.52 L377.19 292.76 L377.84 292.85 L378.48 292.96 L379.12 292.7 L379.76 292.74 L380.4 292.83 L381.04 293.01 L381.68 292.89 L382.32 293.28 L382.97 292.67 L383.61 293.09 L384.25 293.22 L384.89 293.15 L385.53 293.11 L386.17 292.94 L386.81 293.57 L387.45 293.47 L388.1 293.77 L388.74 293.21 L389.38 293.82 L390.02 293.73 L390.66 293.45 L391.3 293.46 L391.94 293.39 L392.59 293.38 L393.23 293.27 L393.87 293 L394.51 293.09 L395.15 292.84 L395.79 292.99 L396.43 292.84 L397.07 293.42 L397.72 293.02 L398.36 293.02 L399 292.99 L399.64 292.65 L400.28 293.16 L400.92 293.64 L401.56 294.54 L402.21 294.11 L402.85 293.95 L403.49 293.35 L404.13 293.49 L404.77 293.52 L405.41 293.66 L406.05 293.72 L406.69 293.76 L407.34 294.08 L407.98 294.39 L408.62 294.53 L409.26 294.89 L409.9 294.41 L410.54 294.7 L411.18 294.78 L411.82 294.78 L412.47 294.96 L413.11 294.48 L413.75 294.44 L414.39 294.22 L415.03 294.8 L415.67 295.08 L416.31 295.76 L416.96 295.27 L417.6 295.43 L418.24 295.2 L418.88 294.84 L419.52 295.37 L420.16 295.15 L420.8 295.27 L421.44 295.2 L422.09 295.19 L422.73 295.08 L423.37 295.19 L424.01 295.69 L424.65 295.89 L425.29 295.84 L425.93 295.79 L426.58 296.05 L427.22 296.12 L427.86 295.97 L428.5 295.51 L429.14 295.5 L429.78 295.69 L430.42 295.59 L431.06 295.89 L431.71 295.68 L432.35 296.09 L432.99 295.72 L433.63 295.89 L434.27 295.42 L434.91 295.5 L435.55 295.64 L436.2 295.55 L436.84 295.64 L437.48 295.63 L438.12 295.01 L438.76 294.91 L439.4 294.86 L440.04 295.62 L440.68 295.2 L441.33 295.04 L441.97 295.18 L442.61 295.61 L443.25 296.05 L443.89 296.21 L444.53 296.09 L445.17 295.91 L445.81 295.73 L446.46 295.59 L447.1 295.55 L447.74 295.61 L448.38 296 L449.02 295.24 L449.66 294.99 L450.3 294.78 L450.95 294.96 L451.59 295.48 L452.23 295.01 L452.87 295.38 L453.51 295.85 L454.15 295.58 L454.79 295.12 L455.43 295.3 L456.08 295.31 L456.72 295.13 L457.36 295.14 L458 295.2 L458.64 295.02 L459.28 294.86 L459.92 295.17 L460.57 295.21 L461.21 295.14 L461.85 294.93 L462.49 294.95 L463.13 295.19 L463.77 295.2 L464.41 295.56 L465.05 295.6 L465.7 295.24 L466.34 295.27 L466.98 295.23 L467.62 295.14 L468.26 295.22 L468.9 295.63 L469.54 295.87 L470.18 295.51 L470.83 295.57 L471.47 296.02 L472.11 295.47 L472.75 295.65 L473.39 296.06 L474.03 295.32 L474.67 295.18 L475.32 295.25 L475.96 295.11 L476.6 295 L477.24 295.31 L477.88 295.13 L478.52 295.43 L479.16 295.68 L479.8 296.14 L480.45 295.99 L481.09 295.22 L481.73 295.66 L482.37 295.87 L483.01 295.6 L483.65 295.01 L484.29 295.17 L484.94 295.16 L485.58 295.37 L486.22 295.51 L486.86 295.22 L487.5 295.44 L488.14 295.16 L488.78 294.97 L489.42 295.22 L490.07 295.59 L490.71 295.62 L491.35 295.97 L491.99 296.12 L492.63 295.99 L493.27 295.83 L493.91 295.79 L494.56 296.36 L495.2 296.34 L495.84 296.04 L496.48 295.62 L497.12 295.38 L497.76 296.09 L498.4 296.36 L499.04 296.41 L499.69 296.43 L500.33 296.43 L500.97 296.43 L501.61 296.43 L502.25 296.43 L502.89 296.3 L503.53 296.07 L504.17 295.4 L504.82 295.42 L505.46 295.12 L506.1 295.33 L506.74 295.38 L507.38 295.92 L508.02 296.06 L508.66 296.26 L509.31 295.9 L509.95 295.94 L510.59 295.82 L511.23 295.75 L511.87 295.62 L512.51 296.18 L513.15 295.76 L513.79 296.21 L514.44 296.08 L515.08 295.72 L515.72 295.85 L516.36 295.22 L517 295.07 L517.64 295.21 L518.28 295.58 L518.93 295.99 L519.57 295.79 L520.21 295.79 L520.85 295.69 L521.49 295.52 L522.13 295.65 L522.77 295.69 L523.41 295.55 L524.06 295.91 L524.7 296.06 L525.34 296.25 L525.98 296.08 L526.62 296.15 L527.26 295.92 L527.9 296.08 L528.54 296.43 L529.19 296.34" fill="none" stroke="#000000" stroke-width="1.4" stroke-linejoin="round" stroke-linecap="butt" />
<path d="M77.48 18.35 L77.7 16.45 L77.91 14.56 L78.13 16.28 L78.34 18.01 L78.55 21.73" fill="none" stroke="#ff0000" stroke-width="1.6" stroke-linejoin="round" stroke-linecap="butt" />
</g>
<g stroke="#0a0a0a" stroke-width="1.3" fill="none" stroke-linecap="butt">
<rect x="59.1" y="12.6" width="470.3" height="284.4"/>
<path d="M59.1 297 v5.8 M80.48 297 v3.2 M101.85 297 v5.8 M123.23 297 v3.2 M144.61 297 v5.8 M165.99 297 v3.2 M187.36 297 v5.8 M208.74 297 v3.2 M230.12 297 v5.8 M251.5 297 v3.2 M272.87 297 v5.8 M294.25 297 v3.2 M315.63 297 v5.8 M337 297 v3.2 M358.38 297 v5.8 M379.76 297 v3.2 M401.14 297 v5.8 M422.51 297 v3.2 M443.89 297 v5.8 M465.27 297 v3.2 M486.65 297 v5.8 M508.02 297 v3.2 M529.4 297 v5.8 M59.1 297 h-5.8 M59.1 282.78 h-3.2 M59.1 268.56 h-5.8 M59.1 254.34 h-3.2 M59.1 240.12 h-5.8 M59.1 225.9 h-3.2 M59.1 211.68 h-5.8 M59.1 197.46 h-3.2 M59.1 183.24 h-5.8 M59.1 169.02 h-3.2 M59.1 154.8 h-5.8 M59.1 140.58 h-3.2 M59.1 126.36 h-5.8 M59.1 112.14 h-3.2 M59.1 97.92 h-5.8 M59.1 83.7 h-3.2 M59.1 69.48 h-5.8 M59.1 55.26 h-3.2 M59.1 41.04 h-5.8 M59.1 26.82 h-3.2 M59.1 12.6 h-5.8 "/>
</g>
<g font-family='"Liberation Sans", Arial, Helvetica, sans-serif' font-size="13.2" fill="#000" stroke="#000" stroke-width="0.25">
<text x="59.7" y="317.2" text-anchor="middle">100</text>
<text x="102.45" y="317.2" text-anchor="middle">200</text>
<text x="145.21" y="317.2" text-anchor="middle">300</text>
<text x="187.96" y="317.2" text-anchor="middle">400</text>
<text x="230.72" y="317.2" text-anchor="middle">500</text>
<text x="273.47" y="317.2" text-anchor="middle">600</text>
<text x="316.23" y="317.2" text-anchor="middle">700</text>
<text x="358.98" y="317.2" text-anchor="middle">800</text>
<text x="401.74" y="317.2" text-anchor="middle">900</text>
<text x="444.49" y="317.2" text-anchor="middle">1000</text>
<text x="487.25" y="317.2" text-anchor="middle">1100</text>
<text x="530" y="317.2" text-anchor="middle">1200</text>
<text x="49.6" y="300.45" text-anchor="end">0.0</text>
<text x="49.6" y="272.01" text-anchor="end">0.1</text>
<text x="49.6" y="243.57" text-anchor="end">0.2</text>
<text x="49.6" y="215.13" text-anchor="end">0.3</text>
<text x="49.6" y="186.69" text-anchor="end">0.4</text>
<text x="49.6" y="158.25" text-anchor="end">0.5</text>
<text x="49.6" y="129.81" text-anchor="end">0.6</text>
<text x="49.6" y="101.37" text-anchor="end">0.7</text>
<text x="49.6" y="72.93" text-anchor="end">0.8</text>
<text x="49.6" y="44.49" text-anchor="end">0.9</text>
<text x="49.6" y="16.05" text-anchor="end">1.0</text>
</g>
<text x="228.9" y="339.7" font-family='"Liberation Sans", Arial, Helvetica, sans-serif' font-size="15.85" fill="#000" stroke="#000" stroke-width="0.2">Raman shift (cm<tspan font-size="10.5" dx="0.9" dy="-6.1">-1</tspan><tspan dx="1.0" dy="6.1">)</tspan></text>
<text transform="translate(18.7 155.6) rotate(-90)" text-anchor="middle" font-family='"Liberation Sans", Arial, Helvetica, sans-serif' font-size="16.1" fill="#000" stroke="#000" stroke-width="0.2">Normalized intensity (a.u.)</text>
<defs><clipPath id="ci1"><rect x="126.2" y="16.7" width="117.3" height="91.4"/></clipPath></defs>
<rect x="126.2" y="16.7" width="117.3" height="91.4" fill="#fff" stroke="none"/>
<g clip-path="url(#ci1)">
<path d="M177 23.5 V108.4" stroke="#c4c4c4" stroke-width="1.8" fill="none"/>
<path d="M179.3 19 V108.4" stroke="#ff4a4a" stroke-width="0.7" fill="none"/>
<path d="M182.2 20.8 V108.4" stroke="#0000ff" stroke-width="1.0" fill="none"/>
<path d="M137.8 107.7 L152.9 62.5 L156.6 53 L162.4 41 L171.7 26.5 L175.5 23 L179.2 20.6 L185.8 21.4 L190.5 24.8 L195 30.8 L198.8 35.9 L207 53.6 L215.3 72.9 L228.6 107.7" fill="none" stroke="#0000ff" stroke-width="1.3" stroke-linejoin="round" stroke-linecap="butt" />
<path d="M136.9 107.7 L151.4 62.5 L156 51 L160.9 40.2 L168.8 25 L173.2 21.6 L178 18.5 L185.8 21.4 L190.4 26.6 L196 35.7 L204.3 53.6 L212.5 74.2 L225.6 107.7" fill="none" stroke="#ff0000" stroke-width="1.3" stroke-linejoin="round" stroke-linecap="butt" />
<path d="M136.2 107.7 L145.6 81.4 L155 55 L160.9 39.6 L166.2 30.8 L170.5 27 L177.1 23.6 L181.5 26 L187 29.8 L193.3 41.5 L201.5 61.8 L209.8 83.9 L219.4 107.7" fill="none" stroke="#000000" stroke-width="1.3" stroke-linejoin="round" stroke-linecap="butt" />
</g>
<rect x="126.2" y="16.7" width="117.3" height="91.4" fill="none" stroke="#909090" stroke-width="1"/>
<path d="M126.2 108.1 v-1.8 M126.2 16.7 v1.8 M140.86 108.1 v-1.1 M140.86 16.7 v1.1 M155.53 108.1 v-1.8 M155.53 16.7 v1.8 M170.19 108.1 v-1.1 M170.19 16.7 v1.1 M184.85 108.1 v-1.8 M184.85 16.7 v1.8 M199.51 108.1 v-1.1 M199.51 16.7 v1.1 M214.18 108.1 v-1.8 M214.18 16.7 v1.8 M228.84 108.1 v-1.1 M228.84 16.7 v1.1 M243.5 108.1 v-1.8 M243.5 16.7 v1.8 M126.2 106.6 h1.6 M243.5 106.6 h-1.6 M126.2 95.17 h1.6 M243.5 95.17 h-1.6 M126.2 83.75 h1.6 M243.5 83.75 h-1.6 M126.2 72.32 h1.6 M243.5 72.32 h-1.6 M126.2 60.9 h1.6 M243.5 60.9 h-1.6 M126.2 49.48 h1.6 M243.5 49.48 h-1.6 M126.2 38.05 h1.6 M243.5 38.05 h-1.6 M126.2 26.62 h1.6 M243.5 26.62 h-1.6 " stroke="#8a8a8a" stroke-width="0.6" fill="none"/>
<g font-family='"Liberation Sans", Arial, Helvetica, sans-serif' font-size="5.5" font-weight="bold" fill="#000" stroke="#000" stroke-width="0.15" text-anchor="middle">
<text x="126.2" y="115.3">135</text>
<text x="155.53" y="115.3">140</text>
<text x="184.85" y="115.3">145</text>
<text x="214.18" y="115.3">150</text>
<text x="243.5" y="115.3">155</text>
</g>
<text x="183.7" y="117.0" text-anchor="middle" font-family='"Liberation Sans", Arial, Helvetica, sans-serif' font-size="4.1" fill="#333">X Axis Title</text>
<defs><clipPath id="ci2"><rect x="258.3" y="16.8" width="116.9" height="91.3"/></clipPath></defs>
<rect x="258.3" y="16.8" width="116.9" height="91.3" fill="#fff" stroke="none"/>
<g clip-path="url(#ci2)">
<path d="M258.3 80.7 L268.9 84 L279 81.5 L289.7 76.5 L300 71.8 L310.6 71.6 L321.1 73.7 L332.2 79.3 L343.3 87.6 L354.4 96.5 L368.6 108.4" fill="none" stroke="#0000ff" stroke-width="1.3" stroke-linejoin="round" stroke-linecap="butt" />
<path d="M258.3 64 L268.9 68.2 L279.5 70.9 L290 71.5 L300.5 67.3 L311.5 64.2 L322.5 63.4 L332.8 67.6 L342.5 77.9 L352 89 L362.8 101.5 L368.6 108.4" fill="none" stroke="#ff0000" stroke-width="1.3" stroke-linejoin="round" stroke-linecap="butt" />
<path d="M258.3 38.4 L268.9 43.2 L278.6 44.6 L289.7 42.6 L300.8 39.6 L311.9 38.2 L322.5 37.6 L333.6 41.8 L344.7 48.7 L354.4 58.4 L365.6 70.9 L375.3 82" fill="none" stroke="#000000" stroke-width="1.3" stroke-linejoin="round" stroke-linecap="butt" />
</g>
<rect x="258.3" y="16.8" width="116.9" height="91.3" fill="none" stroke="#909090" stroke-width="1"/>
<path d="M258.3 108.1 v-1.8 M258.3 16.8 v1.8 M265.61 108.1 v-1.1 M265.61 16.8 v1.1 M272.91 108.1 v-1.8 M272.91 16.8 v1.8 M280.22 108.1 v-1.1 M280.22 16.8 v1.1 M287.52 108.1 v-1.8 M287.52 16.8 v1.8 M294.83 108.1 v-1.1 M294.83 16.8 v1.1 M302.14 108.1 v-1.8 M302.14 16.8 v1.8 M309.44 108.1 v-1.1 M309.44 16.8 v1.1 M316.75 108.1 v-1.8 M316.75 16.8 v1.8 M324.06 108.1 v-1.1 M324.06 16.8 v1.1 M331.36 108.1 v-1.8 M331.36 16.8 v1.8 M338.67 108.1 v-1.1 M338.67 16.8 v1.1 M345.98 108.1 v-1.8 M345.98 16.8 v1.8 M353.28 108.1 v-1.1 M353.28 16.8 v1.1 M360.59 108.1 v-1.8 M360.59 16.8 v1.8 M367.89 108.1 v-1.1 M367.89 16.8 v1.1 M375.2 108.1 v-1.8 M375.2 16.8 v1.8 M258.3 106.6 h1.6 M375.2 106.6 h-1.6 M258.3 95.19 h1.6 M375.2 95.19 h-1.6 M258.3 83.77 h1.6 M375.2 83.77 h-1.6 M258.3 72.36 h1.6 M375.2 72.36 h-1.6 M258.3 60.95 h1.6 M375.2 60.95 h-1.6 M258.3 49.54 h1.6 M375.2 49.54 h-1.6 M258.3 38.12 h1.6 M375.2 38.12 h-1.6 M258.3 26.71 h1.6 M375.2 26.71 h-1.6 " stroke="#8a8a8a" stroke-width="0.6" fill="none"/>
<g font-family='"Liberation Sans", Arial, Helvetica, sans-serif' font-size="5.5" font-weight="bold" fill="#000" stroke="#000" stroke-width="0.15" text-anchor="middle">
<text x="258.3" y="115.3">188</text>
<text x="272.91" y="115.3">190</text>
<text x="287.52" y="115.3">192</text>
<text x="302.14" y="115.3">194</text>
<text x="316.75" y="115.3">196</text>
<text x="331.36" y="115.3">198</text>
<text x="345.98" y="115.3">200</text>
<text x="360.59" y="115.3">202</text>
<text x="375.2" y="115.3">204</text>
</g>
<defs><clipPath id="ci3"><rect x="125.7" y="121.3" width="115.9" height="91.7"/></clipPath></defs>
<rect x="125.7" y="121.3" width="115.9" height="91.7" fill="#fff" stroke="none"/>
<g clip-path="url(#ci3)">
<path d="M125.67 202.67 L126.43 202.07 L127.52 201.21 L128.77 200.24 L130 199.33 L131.2 198.47 L132.46 197.58 L133.73 196.74 L135 196 L136.25 195.39 L137.5 194.88 L138.75 194.42 L140 194 L141.25 193.67 L142.5 193.42 L143.75 193.13 L145 192.67 L146.25 192.08 L147.5 191.4 L148.75 190.52 L150 189.33 L151.21 187.78 L152.4 185.92 L153.63 183.85 L155 181.67 L156.55 179.33 L158.23 176.81 L159.96 174.22 L161.67 171.67 L163.33 169.13 L165 166.56 L166.67 164.05 L168.33 161.67 L170.04 159.36 L171.77 157.12 L173.45 155.07 L175 153.33 L176.37 151.93 L177.6 150.81 L178.79 149.95 L180 149.33 L181.25 148.96 L182.5 148.83 L183.75 148.96 L185 149.33 L186.25 149.99 L187.5 150.92 L188.75 152.05 L190 153.33 L191.25 154.77 L192.5 156.4 L193.75 158.15 L195 160 L196.25 161.93 L197.5 163.96 L198.75 166.09 L200 168.33 L201.25 170.79 L202.5 173.44 L203.75 176.03 L205 178.33 L206.25 180.27 L207.5 181.98 L208.75 183.53 L210 185 L211.25 186.41 L212.5 187.71 L213.75 188.91 L215 190 L216.25 190.95 L217.5 191.77 L218.75 192.54 L220 193.33 L221.25 194.23 L222.5 195.17 L223.75 196.02 L225 196.67 L226.25 197.01 L227.5 197.15 L228.75 197.21 L230 197.33 L231.21 197.53 L232.4 197.73 L233.63 197.98 L235 198.33 L236.71 198.88 L238.65 199.56 L240.43 200.22 L241.67 200.67" fill="none" stroke="#0000ff" stroke-width="1.3" stroke-linejoin="round" stroke-linecap="butt" />
<path d="M125.67 198.33 L126.43 197.38 L127.52 196 L128.77 194.54 L130 193.33 L131.2 192.52 L132.46 191.9 L133.73 191.33 L135 190.67 L136.25 189.88 L137.5 189.04 L138.75 188.18 L140 187.33 L141.25 186.59 L142.5 185.92 L143.75 185.11 L145 184 L146.25 182.47 L147.5 180.65 L148.75 178.66 L150 176.67 L151.21 174.73 L152.4 172.77 L153.63 170.67 L155 168.33 L156.55 165.65 L158.23 162.71 L159.96 159.66 L161.67 156.67 L163.33 153.73 L165 150.79 L166.67 147.87 L168.33 145 L170.04 142.02 L171.77 138.98 L173.45 136.2 L175 134 L176.38 132.6 L177.65 131.79 L178.84 131.25 L180 130.67 L181.12 129.84 L182.19 128.98 L183.24 128.38 L184.33 128.33 L185.45 128.95 L186.56 130.06 L187.73 131.56 L189 133.33 L190.43 135.52 L191.98 138.13 L193.54 140.83 L195 143.33 L196.32 145.47 L197.56 147.44 L198.77 149.43 L200 151.67 L201.25 154.32 L202.5 157.23 L203.75 160.11 L205 162.67 L206.25 164.77 L207.5 166.6 L208.75 168.3 L210 170 L211.25 171.73 L212.5 173.42 L213.75 175.06 L215 176.67 L216.25 178.26 L217.5 179.83 L218.75 181.32 L220 182.67 L221.25 183.86 L222.5 184.94 L223.75 185.88 L225 186.67 L226.25 187.25 L227.5 187.65 L228.75 187.97 L230 188.33 L231.21 188.73 L232.4 189.12 L233.63 189.54 L235 190 L236.71 190.59 L238.65 191.27 L240.43 191.9 L241.67 192.33" fill="none" stroke="#ff0000" stroke-width="1.3" stroke-linejoin="round" stroke-linecap="butt" />
<path d="M125.67 203.33 L126.47 202.72 L127.62 201.83 L128.89 200.86 L130 200 L130.9 199.18 L131.73 198.35 L132.52 197.68 L133.33 197.33 L134.17 197.52 L135 198.1 L135.83 198.72 L136.67 199 L137.46 198.83 L138.23 198.42 L139.05 197.87 L140 197.33 L141.13 196.86 L142.4 196.38 L143.71 195.79 L145 195 L146.25 193.94 L147.5 192.67 L148.75 191.31 L150 190 L151.21 188.79 L152.4 187.6 L153.63 186.37 L155 185 L156.55 183.43 L158.23 181.71 L159.96 179.97 L161.67 178.33 L163.33 176.82 L165 175.35 L166.67 173.97 L168.33 172.67 L170.04 171.41 L171.77 170.21 L173.45 169.15 L175 168.33 L176.37 167.86 L177.6 167.65 L178.79 167.53 L180 167.33 L181.25 166.94 L182.5 166.46 L183.75 166.08 L185 166 L186.25 166.28 L187.5 166.81 L188.75 167.52 L190 168.33 L191.25 169.28 L192.5 170.4 L193.75 171.56 L195 172.67 L196.25 173.61 L197.5 174.48 L198.75 175.44 L200 176.67 L201.25 178.31 L202.5 180.25 L203.75 182.23 L205 184 L206.25 185.51 L207.5 186.87 L208.75 188.14 L210 189.33 L211.25 190.46 L212.5 191.5 L213.75 192.46 L215 193.33 L216.25 194.1 L217.5 194.77 L218.75 195.39 L220 196 L221.29 196.62 L222.6 197.23 L223.87 197.8 L225 198.33 L225.91 198.86 L226.67 199.38 L227.42 199.79 L228.33 200 L229.47 199.89 L230.73 199.54 L232.04 199.17 L233.33 199 L234.62 199.12 L235.94 199.4 L237.2 199.73 L238.33 200 L239.36 200.21 L240.31 200.4 L241.11 200.55 L241.67 200.67" fill="none" stroke="#000000" stroke-width="1.3" stroke-linejoin="round" stroke-linecap="butt" />
</g>
<rect x="125.7" y="121.3" width="115.9" height="91.7" fill="none" stroke="#909090" stroke-width="1"/>
<path d="M125.7 213 v-1.8 M125.7 121.3 v1.8 M133.98 213 v-1.1 M133.98 121.3 v1.1 M142.26 213 v-1.8 M142.26 121.3 v1.8 M150.54 213 v-1.1 M150.54 121.3 v1.1 M158.81 213 v-1.8 M158.81 121.3 v1.8 M167.09 213 v-1.1 M167.09 121.3 v1.1 M175.37 213 v-1.8 M175.37 121.3 v1.8 M183.65 213 v-1.1 M183.65 121.3 v1.1 M191.93 213 v-1.8 M191.93 121.3 v1.8 M200.21 213 v-1.1 M200.21 121.3 v1.1 M208.49 213 v-1.8 M208.49 121.3 v1.8 M216.76 213 v-1.1 M216.76 121.3 v1.1 M225.04 213 v-1.8 M225.04 121.3 v1.8 M233.32 213 v-1.1 M233.32 121.3 v1.1 M241.6 213 v-1.8 M241.6 121.3 v1.8 M125.7 211.5 h1.6 M241.6 211.5 h-1.6 M125.7 200.04 h1.6 M241.6 200.04 h-1.6 M125.7 188.57 h1.6 M241.6 188.57 h-1.6 M125.7 177.11 h1.6 M241.6 177.11 h-1.6 M125.7 165.65 h1.6 M241.6 165.65 h-1.6 M125.7 154.19 h1.6 M241.6 154.19 h-1.6 M125.7 142.72 h1.6 M241.6 142.72 h-1.6 M125.7 131.26 h1.6 M241.6 131.26 h-1.6 " stroke="#8a8a8a" stroke-width="0.6" fill="none"/>
<g font-family='"Liberation Sans", Arial, Helvetica, sans-serif' font-size="5.5" font-weight="bold" fill="#000" stroke="#000" stroke-width="0.15" text-anchor="middle">
<text x="125.7" y="220.2">360</text>
<text x="142.26" y="220.2">370</text>
<text x="158.81" y="220.2">380</text>
<text x="175.37" y="220.2">390</text>
<text x="191.93" y="220.2">400</text>
<text x="208.49" y="220.2">410</text>
<text x="225.04" y="220.2">420</text>
<text x="241.6" y="220.2">430</text>
</g>
<defs><clipPath id="ci4"><rect x="258.6" y="121.3" width="116.6" height="91.7"/></clipPath></defs>
<rect x="258.6" y="121.3" width="116.6" height="91.7" fill="#fff" stroke="none"/>
<g clip-path="url(#ci4)">
<path d="M259 207.67 L259.76 207.65 L260.85 207.65 L262.1 207.57 L263.33 207.33 L264.54 206.91 L265.79 206.35 L267.07 205.7 L268.33 205 L269.58 204.21 L270.83 203.33 L272.08 202.45 L273.33 201.67 L274.58 201.02 L275.83 200.46 L277.08 199.92 L278.33 199.33 L279.58 198.74 L280.83 198.17 L282.08 197.51 L283.33 196.67 L284.58 195.62 L285.83 194.42 L287.08 193.09 L288.33 191.67 L289.58 190.12 L290.83 188.44 L292.08 186.71 L293.33 185 L294.58 183.37 L295.83 181.77 L297.08 180.12 L298.33 178.33 L299.58 176.37 L300.83 174.27 L302.08 172.12 L303.33 170 L304.58 167.88 L305.83 165.73 L307.08 163.63 L308.33 161.67 L309.58 159.79 L310.83 157.98 L312.08 156.35 L313.33 155 L314.58 153.93 L315.83 153.08 L317.08 152.53 L318.33 152.33 L319.58 152.53 L320.83 153.08 L322.08 153.93 L323.33 155 L324.58 156.39 L325.83 158.08 L327.08 159.91 L328.33 161.67 L329.58 163.33 L330.83 165 L332.08 166.67 L333.33 168.33 L334.58 170.04 L335.83 171.77 L337.08 173.45 L338.33 175 L339.58 176.37 L340.83 177.6 L342.08 178.79 L343.33 180 L344.58 181.25 L345.83 182.5 L347.08 183.75 L348.33 185 L349.58 186.25 L350.83 187.5 L352.08 188.75 L353.33 190 L354.58 191.33 L355.83 192.71 L357.08 193.98 L358.33 195 L359.58 195.65 L360.83 196.04 L362.08 196.33 L363.33 196.67 L364.54 197.08 L365.71 197.5 L366.94 197.92 L368.33 198.33 L370.11 198.79 L372.15 199.27 L374.03 199.7 L375.33 200" fill="none" stroke="#0000ff" stroke-width="1.3" stroke-linejoin="round" stroke-linecap="butt" />
<path d="M259 201.67 L260.1 201.39 L261.69 201 L263.43 200.53 L265 200 L266.32 199.42 L267.56 198.77 L268.77 198.07 L270 197.33 L271.25 196.56 L272.5 195.75 L273.75 194.9 L275 194 L276.25 193.07 L277.5 192.1 L278.75 191.09 L280 190 L281.25 188.9 L282.5 187.77 L283.75 186.51 L285 185 L286.25 183.19 L287.5 181.15 L288.75 178.95 L290 176.67 L291.25 174.32 L292.5 171.88 L293.75 169.32 L295 166.67 L296.25 163.87 L297.5 160.94 L298.75 157.96 L300 155 L301.25 152.04 L302.5 149.06 L303.75 146.13 L305 143.33 L306.25 140.64 L307.5 138.02 L308.75 135.56 L310 133.33 L311.27 131.34 L312.54 129.54 L313.8 127.97 L315 126.67 L316.14 125.63 L317.23 124.85 L318.29 124.32 L319.33 124 L320.33 123.86 L321.29 123.92 L322.27 124.27 L323.33 125 L324.51 126.19 L325.77 127.77 L327.06 129.63 L328.33 131.67 L329.58 133.89 L330.83 136.35 L332.08 138.97 L333.33 141.67 L334.58 144.51 L335.83 147.5 L337.08 150.49 L338.33 153.33 L339.58 155.95 L340.83 158.44 L342.08 160.87 L343.33 163.33 L344.58 165.87 L345.83 168.44 L347.08 170.95 L348.33 173.33 L349.58 175.61 L350.83 177.81 L352.08 179.86 L353.33 181.67 L354.58 183.21 L355.83 184.52 L357.08 185.66 L358.33 186.67 L359.58 187.53 L360.83 188.23 L362.08 188.82 L363.33 189.33 L364.54 189.79 L365.71 190.17 L366.94 190.46 L368.33 190.67 L370.11 190.76 L372.15 190.75 L374.03 190.7 L375.33 190.67" fill="none" stroke="#ff0000" stroke-width="1.3" stroke-linejoin="round" stroke-linecap="butt" />
<path d="M259 206.67 L259.76 206.87 L260.85 207.19 L262.1 207.41 L263.33 207.33 L264.54 206.85 L265.79 206.08 L267.07 205.19 L268.33 204.33 L269.58 203.47 L270.83 202.54 L272.08 201.68 L273.33 201 L274.58 200.66 L275.83 200.54 L277.08 200.41 L278.33 200 L279.58 199.22 L280.83 198.21 L282.08 197.09 L283.33 196 L284.58 194.97 L285.83 193.94 L287.08 192.85 L288.33 191.67 L289.58 190.35 L290.83 188.94 L292.08 187.47 L293.33 186 L294.58 184.54 L295.83 183.06 L297.08 181.55 L298.33 180 L299.58 178.34 L300.83 176.6 L302.08 174.9 L303.33 173.33 L304.58 171.9 L305.83 170.56 L307.08 169.36 L308.33 168.33 L309.54 167.55 L310.73 166.98 L311.97 166.5 L313.33 166 L314.92 165.37 L316.67 164.69 L318.41 164.16 L320 164 L321.37 164.32 L322.6 165 L323.79 165.84 L325 166.67 L326.25 167.38 L327.5 168.08 L328.75 168.92 L330 170 L331.25 171.45 L332.5 173.17 L333.75 174.97 L335 176.67 L336.25 178.26 L337.5 179.83 L338.75 181.32 L340 182.67 L341.25 183.82 L342.5 184.83 L343.75 185.76 L345 186.67 L346.25 187.56 L347.5 188.42 L348.75 189.23 L350 190 L351.25 190.72 L352.5 191.4 L353.75 192.04 L355 192.67 L356.25 193.29 L357.5 193.9 L358.75 194.47 L360 195 L361.25 195.46 L362.5 195.88 L363.75 196.27 L365 196.67 L366.24 197.1 L367.48 197.54 L368.73 197.96 L370 198.33 L371.43 198.65 L372.98 198.94 L374.37 199.17 L375.33 199.33" fill="none" stroke="#000000" stroke-width="1.3" stroke-linejoin="round" stroke-linecap="butt" />
</g>
<rect x="258.6" y="121.3" width="116.6" height="91.7" fill="none" stroke="#909090" stroke-width="1"/>
<path d="M258.6 213 v-1.8 M258.6 121.3 v1.8 M266.93 213 v-1.1 M266.93 121.3 v1.1 M275.26 213 v-1.8 M275.26 121.3 v1.8 M283.59 213 v-1.1 M283.59 121.3 v1.1 M291.91 213 v-1.8 M291.91 121.3 v1.8 M300.24 213 v-1.1 M300.24 121.3 v1.1 M308.57 213 v-1.8 M308.57 121.3 v1.8 M316.9 213 v-1.1 M316.9 121.3 v1.1 M325.23 213 v-1.8 M325.23 121.3 v1.8 M333.56 213 v-1.1 M333.56 121.3 v1.1 M341.89 213 v-1.8 M341.89 121.3 v1.8 M350.21 213 v-1.1 M350.21 121.3 v1.1 M358.54 213 v-1.8 M358.54 121.3 v1.8 M366.87 213 v-1.1 M366.87 121.3 v1.1 M375.2 213 v-1.8 M375.2 121.3 v1.8 M258.6 211.5 h1.6 M375.2 211.5 h-1.6 M258.6 200.04 h1.6 M375.2 200.04 h-1.6 M258.6 188.57 h1.6 M375.2 188.57 h-1.6 M258.6 177.11 h1.6 M375.2 177.11 h-1.6 M258.6 165.65 h1.6 M375.2 165.65 h-1.6 M258.6 154.19 h1.6 M375.2 154.19 h-1.6 M258.6 142.72 h1.6 M375.2 142.72 h-1.6 M258.6 131.26 h1.6 M375.2 131.26 h-1.6 " stroke="#8a8a8a" stroke-width="0.6" fill="none"/>
<g font-family='"Liberation Sans", Arial, Helvetica, sans-serif' font-size="5.5" font-weight="bold" fill="#000" stroke="#000" stroke-width="0.15" text-anchor="middle">
<text x="258.6" y="220.2">480</text>
<text x="275.26" y="220.2">490</text>
<text x="291.91" y="220.2">500</text>
<text x="308.57" y="220.2">510</text>
<text x="325.23" y="220.2">520</text>
<text x="341.89" y="220.2">530</text>
<text x="358.54" y="220.2">540</text>
<text x="375.2" y="220.2">550</text>
</g>
<defs><clipPath id="ci5"><rect x="391.2" y="121.3" width="116.5" height="91.7"/></clipPath></defs>
<rect x="391.2" y="121.3" width="116.5" height="91.7" fill="#fff" stroke="none"/>
<g clip-path="url(#ci5)">
<path d="M391.2 200.9 L392.33 200.21 L393.94 199.21 L395.5 198.2 L396.81 197.26 L398.06 196.29 L399.3 195.3 L400.53 194.3 L401.76 193.27 L403 192.2 L404.29 191.1 L405.6 189.96 L406.9 188.7 L408.17 187.31 L409.43 185.8 L410.7 184.2 L412.03 182.46 L413.37 180.62 L414.6 178.8 L415.65 177.04 L416.59 175.3 L417.5 173.6 L418.39 171.99 L419.25 170.41 L420.1 168.7 L420.95 166.73 L421.79 164.62 L422.6 162.6 L423.32 160.85 L424 159.19 L424.8 157.3 L425.81 154.99 L426.94 152.46 L428 150 L428.91 147.73 L429.76 145.54 L430.6 143.4 L431.47 141.25 L432.32 139.15 L433.1 137.2 L433.76 135.46 L434.33 133.87 L434.9 132.4 L435.49 130.99 L436.06 129.7 L436.6 128.6 L437.08 127.76 L437.53 127.13 L438 126.6 L438.52 126.17 L439.06 125.84 L439.6 125.6 L440.13 125.43 L440.66 125.33 L441.2 125.3 L441.73 125.29 L442.28 125.35 L442.9 125.6 L443.67 126.1 L444.52 126.8 L445.3 127.6 L445.95 128.49 L446.53 129.5 L447.1 130.6 L447.62 131.69 L448.13 132.89 L448.8 134.5 L449.78 136.78 L450.92 139.49 L452 142.2 L452.91 144.84 L453.76 147.49 L454.6 150 L455.46 152.27 L456.33 154.41 L457.2 156.6 L458.1 158.91 L459 161.27 L459.9 163.6 L460.78 165.9 L461.64 168.19 L462.5 170.4 L463.34 172.56 L464.18 174.64 L465 176.6 L465.81 178.38 L466.6 180.02 L467.4 181.6 L468.19 183.11 L468.97 184.56 L469.8 186 L470.7 187.48 L471.64 188.96 L472.6 190.4 L473.56 191.79 L474.54 193.14 L475.5 194.4 L476.44 195.55 L477.37 196.61 L478.3 197.6 L479.23 198.53 L480.16 199.39 L481.1 200.2 L482.06 200.98 L483.04 201.71 L484 202.4 L484.9 203.04 L485.8 203.63 L486.8 204.2 L488 204.74 L489.3 205.27 L490.6 205.8 L491.86 206.34 L493.1 206.9 L494.3 207.5 L495.43 208.19 L496.51 208.91 L497.6 209.6 L498.7 210.22 L499.79 210.8 L500.9 211.3 L502.03 211.7 L503.16 212.02 L504.3 212.3 L505.56 212.55 L506.82 212.76 L507.7 212.9" fill="none" stroke="#000000" stroke-width="1.3" stroke-linejoin="round" stroke-linecap="butt" />
<path d="M391.2 201.2 L392.33 200.71 L393.94 200.02 L395.5 199.3 L396.81 198.64 L398.06 197.95 L399.3 197.2 L400.53 196.37 L401.76 195.47 L403 194.5 L404.29 193.46 L405.6 192.34 L406.9 191.1 L408.17 189.73 L409.43 188.24 L410.7 186.6 L412.02 184.71 L413.35 182.67 L414.6 180.7 L415.72 178.91 L416.76 177.18 L417.8 175.4 L418.89 173.5 L419.99 171.55 L421 169.6 L421.86 167.7 L422.64 165.81 L423.5 163.8 L424.52 161.61 L425.62 159.32 L426.7 157 L427.73 154.67 L428.74 152.31 L429.7 150 L430.6 147.76 L431.46 145.56 L432.3 143.4 L433.17 141.25 L434.02 139.15 L434.8 137.2 L435.46 135.47 L436.03 133.89 L436.6 132.4 L437.18 130.96 L437.74 129.61 L438.3 128.4 L438.84 127.33 L439.37 126.39 L439.9 125.6 L440.43 124.97 L440.95 124.5 L441.5 124.2 L442.08 124.1 L442.68 124.19 L443.3 124.4 L443.94 124.71 L444.61 125.16 L445.3 125.8 L446.02 126.68 L446.76 127.76 L447.5 129 L448.19 130.34 L448.89 131.84 L449.7 133.7 L450.74 136.08 L451.9 138.81 L453 141.6 L453.99 144.42 L454.91 147.3 L455.8 150 L456.63 152.39 L457.41 154.59 L458.2 156.8 L458.99 159.07 L459.79 161.33 L460.6 163.6 L461.45 165.88 L462.33 168.16 L463.2 170.4 L464.07 172.62 L464.94 174.8 L465.8 176.8 L466.64 178.54 L467.47 180.1 L468.3 181.6 L469.12 183.05 L469.94 184.44 L470.8 185.8 L471.71 187.16 L472.66 188.5 L473.6 189.8 L474.53 191.07 L475.47 192.29 L476.4 193.4 L477.33 194.36 L478.26 195.21 L479.2 196 L480.16 196.76 L481.14 197.46 L482.1 198.1 L483.04 198.65 L483.97 199.14 L484.9 199.6 L485.85 200.05 L486.8 200.48 L487.7 200.9 L488.53 201.29 L489.31 201.67 L490.1 202.1 L490.9 202.61 L491.71 203.17 L492.5 203.8 L493.27 204.52 L494.03 205.3 L494.8 206.1 L495.6 206.92 L496.4 207.76 L497.2 208.5 L497.97 209.11 L498.73 209.63 L499.5 210.1 L500.29 210.54 L501.1 210.94 L501.9 211.3 L502.66 211.6 L503.43 211.86 L504.3 212.1 L505.49 212.37 L506.78 212.62 L507.7 212.8" fill="none" stroke="#ff0000" stroke-width="1.3" stroke-linejoin="round" stroke-linecap="butt" />
<path d="M391.2 206 L392.33 205.44 L393.94 204.64 L395.5 203.8 L396.81 203 L398.06 202.17 L399.3 201.3 L400.53 200.4 L401.76 199.47 L403 198.5 L404.29 197.49 L405.6 196.43 L406.9 195.3 L408.17 194.09 L409.43 192.81 L410.7 191.4 L412 189.87 L413.31 188.23 L414.6 186.4 L415.85 184.34 L417.07 182.1 L418.3 179.8 L419.57 177.42 L420.83 174.98 L422 172.6 L423 170.36 L423.9 168.18 L424.8 166 L425.69 163.9 L426.58 161.81 L427.6 159.4 L428.88 156.37 L430.3 153.03 L431.6 150 L432.68 147.58 L433.64 145.47 L434.6 143.4 L435.62 141.21 L436.63 139.06 L437.5 137.2 L438.16 135.77 L438.68 134.62 L439.2 133.6 L439.75 132.64 L440.3 131.8 L440.9 131.1 L441.59 130.54 L442.32 130.13 L443 129.9 L443.57 129.88 L444.09 130.04 L444.6 130.3 L445.13 130.63 L445.65 131.05 L446.2 131.6 L446.79 132.29 L447.4 133.1 L448 134 L448.55 134.9 L449.09 135.9 L449.7 137.2 L450.42 138.96 L451.21 141.04 L452 143.2 L452.77 145.41 L453.55 147.72 L454.3 150 L455.01 152.21 L455.71 154.39 L456.4 156.6 L457.09 158.85 L457.77 161.13 L458.5 163.4 L459.3 165.68 L460.14 167.96 L461 170.2 L461.86 172.43 L462.74 174.61 L463.6 176.6 L464.43 178.3 L465.25 179.8 L466.1 181.2 L467.01 182.49 L467.96 183.69 L468.9 184.9 L469.83 186.19 L470.77 187.51 L471.7 188.8 L472.63 190.06 L473.56 191.3 L474.5 192.5 L475.46 193.64 L476.44 194.74 L477.4 195.8 L478.34 196.8 L479.27 197.76 L480.2 198.7 L481.13 199.63 L482.07 200.53 L483 201.4 L483.93 202.25 L484.86 203.07 L485.8 203.8 L486.76 204.41 L487.74 204.93 L488.7 205.4 L489.64 205.81 L490.57 206.18 L491.5 206.6 L492.43 207.13 L493.36 207.71 L494.3 208.3 L495.28 208.88 L496.27 209.46 L497.2 210 L498.01 210.47 L498.75 210.9 L499.5 211.3 L500.29 211.67 L501.08 212.01 L501.9 212.3 L502.73 212.51 L503.58 212.67 L504.5 212.8 L505.64 212.9 L506.85 212.96 L507.7 213" fill="none" stroke="#0000ff" stroke-width="1.3" stroke-linejoin="round" stroke-linecap="butt" />
</g>
<rect x="391.2" y="121.3" width="116.5" height="91.7" fill="none" stroke="#909090" stroke-width="1"/>
<path d="M391.2 213 v-1.8 M391.2 121.3 v1.8 M398.48 213 v-1.1 M398.48 121.3 v1.1 M405.76 213 v-1.8 M405.76 121.3 v1.8 M413.04 213 v-1.1 M413.04 121.3 v1.1 M420.32 213 v-1.8 M420.32 121.3 v1.8 M427.61 213 v-1.1 M427.61 121.3 v1.1 M434.89 213 v-1.8 M434.89 121.3 v1.8 M442.17 213 v-1.1 M442.17 121.3 v1.1 M449.45 213 v-1.8 M449.45 121.3 v1.8 M456.73 213 v-1.1 M456.73 121.3 v1.1 M464.01 213 v-1.8 M464.01 121.3 v1.8 M471.29 213 v-1.1 M471.29 121.3 v1.1 M478.57 213 v-1.8 M478.57 121.3 v1.8 M485.86 213 v-1.1 M485.86 121.3 v1.1 M493.14 213 v-1.8 M493.14 121.3 v1.8 M500.42 213 v-1.1 M500.42 121.3 v1.1 M507.7 213 v-1.8 M507.7 121.3 v1.8 M391.2 211.5 h1.6 M507.7 211.5 h-1.6 M391.2 200.04 h1.6 M507.7 200.04 h-1.6 M391.2 188.57 h1.6 M507.7 188.57 h-1.6 M391.2 177.11 h1.6 M507.7 177.11 h-1.6 M391.2 165.65 h1.6 M507.7 165.65 h-1.6 M391.2 154.19 h1.6 M507.7 154.19 h-1.6 M391.2 142.72 h1.6 M507.7 142.72 h-1.6 M391.2 131.26 h1.6 M507.7 131.26 h-1.6 " stroke="#8a8a8a" stroke-width="0.6" fill="none"/>
<g font-family='"Liberation Sans", Arial, Helvetica, sans-serif' font-size="5.5" font-weight="bold" fill="#000" stroke="#000" stroke-width="0.15" text-anchor="middle">
<text x="391.2" y="220.2">600</text>
<text x="405.76" y="220.2">610</text>
<text x="420.32" y="220.2">620</text>
<text x="434.89" y="220.2">630</text>
<text x="449.45" y="220.2">640</text>
<text x="464.01" y="220.2">650</text>
<text x="478.57" y="220.2">660</text>
<text x="493.14" y="220.2">670</text>
<text x="507.7" y="220.2">680</text>
</g>
<text x="209.58" y="26.9" text-anchor="end" font-family='"Liberation Sans", Arial, Helvetica, sans-serif' fill="#000" stroke="#000" stroke-width="0.2" font-size="8">(A)</text>
<text x="210.84" y="35" font-family='"Liberation Sans", Arial, Helvetica, sans-serif' fill="#000" stroke="#000" stroke-width="0.25" font-size="13.45">E<tspan font-size="8" dx="0.3" dy="5.7">g</tspan><tspan dx="0.3" dy="-5.7">(1)</tspan></text>
<text x="339.58" y="27.6" text-anchor="end" font-family='"Liberation Sans", Arial, Helvetica, sans-serif' fill="#000" stroke="#000" stroke-width="0.2" font-size="8">(B)</text>
<text x="340.84" y="35.7" font-family='"Liberation Sans", Arial, Helvetica, sans-serif' fill="#000" stroke="#000" stroke-width="0.25" font-size="13.45">E<tspan font-size="8" dx="0.3" dy="5.7">g</tspan><tspan dx="0.3" dy="-5.7">(2)</tspan></text>
<text x="215.08" y="135.9" text-anchor="end" font-family='"Liberation Sans", Arial, Helvetica, sans-serif' fill="#000" stroke="#000" stroke-width="0.2" font-size="8">(C)</text>
<text x="217.32" y="143.6" font-family='"Liberation Sans", Arial, Helvetica, sans-serif' fill="#000" stroke="#000" stroke-width="0.25" font-size="13.45">B<tspan font-size="8" dx="1" dy="5.7">1g</tspan></text>
<text x="354.18" y="135.5" text-anchor="end" font-family='"Liberation Sans", Arial, Helvetica, sans-serif' fill="#000" stroke="#000" stroke-width="0.2" font-size="8">(D)</text>
<text x="356.5" y="143.6" font-family='"Liberation Sans", Arial, Helvetica, sans-serif' fill="#000" stroke="#000" stroke-width="0.25" font-size="13.45">A<tspan font-size="8" dx="0.3" dy="5.7">1g</tspan></text>
<text x="473.08" y="135.9" text-anchor="end" font-family='"Liberation Sans", Arial, Helvetica, sans-serif' fill="#000" stroke="#000" stroke-width="0.2" font-size="8">(E)</text>
<text x="474.34" y="144" font-family='"Liberation Sans", Arial, Helvetica, sans-serif' fill="#000" stroke="#000" stroke-width="0.25" font-size="13.45">E<tspan font-size="8" dx="0.3" dy="5.7">g</tspan><tspan dx="0.3" dy="-5.7">(3)</tspan></text>
<rect x="385.4" y="18.4" width="137.8" height="56.4" fill="#fff" stroke="#8c8c8c" stroke-width="0.9"/>
<path d="M396 31.2 H430" stroke="#0000ff" stroke-width="1.6" fill="none"/>
<text x="433.6" y="36.2" font-family='"Liberation Sans", Arial, Helvetica, sans-serif' font-size="15.0" fill="#000" stroke="#000" stroke-width="0.2">Co-TiO<tspan font-size="8.2" dx="0.4">2</tspan></text>
<path d="M396 48.6 H430" stroke="#ff0000" stroke-width="1.6" fill="none"/>
<text x="433.6" y="53.6" font-family='"Liberation Sans", Arial, Helvetica, sans-serif' font-size="15.0" fill="#000" stroke="#000" stroke-width="0.2">Co-TiO<tspan font-size="8.2" dx="0.4">2</tspan><tspan dx="1.3">-NTs</tspan></text>
<path d="M396 66.9 H430" stroke="#000000" stroke-width="1.6" fill="none"/>
<text x="433.6" y="71.9" font-family='"Liberation Sans", Arial, Helvetica, sans-serif' font-size="15.0" fill="#000" stroke="#000" stroke-width="0.2">TiO<tspan font-size="8.2" dx="0.4">2</tspan><tspan dx="1.3">-NTs</tspan></text>
</svg>
</body>
</html>
